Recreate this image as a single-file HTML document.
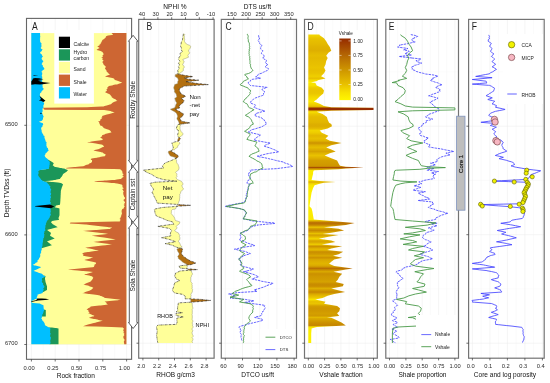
<!DOCTYPE html>
<html><head><meta charset="utf-8"><title>Well log panels</title>
<style>
html,body{margin:0;padding:0;background:#fff}
svg{display:block}
text{font-family:"Liberation Sans", Arial, sans-serif;fill:#222}
.tk{font-size:5.75px;text-anchor:middle;fill:#2a2a2a}
.ti{font-size:6.56px;text-anchor:middle;fill:#111}
.lt{font-size:10.2px;fill:#1c1c1c}
.lg{font-size:5.1px;fill:#222}
.fm{font-size:6.6px;text-anchor:middle;fill:#222}
.an{font-size:6.2px;fill:#111}
</style></head><body>
<svg width="550" height="383" viewBox="0 0 550 383">
<rect width="550" height="383" fill="#fff"/>
<rect x="26.5" y="18.4" width="105.1" height="340.9" fill="#fff"/>
<path d="M43.3 18.4V359.3M67.1 18.4V359.3M90.9 18.4V359.3M114.7 18.4V359.3M26.5 70.5H131.6M26.5 180.1H131.6M26.5 289.7H131.6" stroke="#f4f4f4" stroke-width="0.4" fill="none"/>
<path d="M31.4 18.4V359.3M55.2 18.4V359.3M79 18.4V359.3M102.8 18.4V359.3M126.6 18.4V359.3M26.5 125.3H131.6M26.5 234.9H131.6M26.5 344.5H131.6" stroke="#ebebeb" stroke-width="0.5" fill="none"/>
<rect x="31.3" y="33.1" width="95.1" height="311.2" fill="#ffff99"/>
<polygon points="40.1,33.1 40.1,33.6 40,34.1 40,34.6 40.4,35 40.4,35.1 39.9,35.5 39.9,35.6 40.3,36.1 40.3,36.6 40.2,37.1 40.2,37.6 39.9,38.1 39.9,38.6 40.3,38.8 40.3,39.1 39.9,39.6 39.9,40.1 40.2,40.6 40.2,41 40,41.1 40.2,41.6 40.4,42.1 40.6,42.6 41.1,43.1 41.1,43.2 41.6,43.6 41.7,44.1 41.2,44.6 41.3,45.1 41.5,45.4 41.4,45.6 41.5,46.1 41.3,46.6 41.6,46.7 41.4,47.1 40.9,47.6 40.7,48.1 41,48.6 41.6,49.1 42.6,49.6 42.7,49.7 41.7,50 41.6,50.1 42.1,50.6 41.8,51.1 41.1,51.4 41,51.6 40.5,52.1 40.2,52.6 40,53 40,53.1 40.6,53.6 41,54.1 41.8,54.6 42.2,55.1 42,55.6 42.1,55.8 42.7,56.1 42.9,56.3 42.8,56.6 42.5,57.1 42,57.6 41.8,58 41.9,58.1 41.7,58.5 41.4,58.6 41.7,59.1 42,59.6 42.3,60.1 42.5,60.2 42.7,60.6 43.4,61.1 43.6,61.3 43.1,61.6 42.8,62.1 42.6,62.3 42.4,62.6 42.3,63.1 42,63.6 41.7,64 41.7,64.1 41.8,64.5 41.8,64.6 42.5,65.1 42.8,65.6 42.9,66.1 43,66.2 42.8,66.6 42.9,66.7 43.4,67.1 43.7,67.6 43.9,68.1 44.2,68.6 44.7,68.9 44.5,69.1 43.8,69.6 43.3,70.1 42.7,70.2 42.3,70.6 42.4,71.1 42.1,71.3 41.4,71.6 41.6,72.1 41.9,72.4 42,72.6 42.4,73.1 42.5,73.5 42,73.6 41.9,74.1 42.2,74.6 42.2,75.1 41.7,75.6 41.7,76.1 42.2,76.6 42.2,77 42.2,77.1 42.3,77.6 42.1,78.1 42.1,78.4 42.4,78.6 42.4,79.1 41.9,79.6 41.9,80.1 42.3,80.6 42.3,81.1 42.2,81.6 42.3,82.8 42.2,83.1 42.2,83.6 42.6,84.1 42.6,84.4 42.7,84.6 42.7,85.1 42.3,85.5 42.3,85.6 42.6,86.1 42.8,86.6 42.4,87.1 42.6,87.6 43.3,88.1 43.4,88.3 43.5,88.6 43.5,88.8 43.7,89.1 43.4,89.6 42.9,90.1 42.7,90.5 42.1,90.6 41.8,91.1 41.6,91.6 41.3,92.1 41.4,92.3 41.2,92.6 40.3,93.1 40,93.6 40.1,94.1 40,94.3 39.8,94.6 39.9,95.1 40,95.6 40.1,96.1 40.2,96.5 40.2,96.6 41,97.1 41.1,97.6 40.7,98 40.7,98.1 41.1,98.6 41.2,98.7 41.5,99.1 41.8,99.6 42.6,100.1 42.8,100.6 42.3,100.9 42.4,101.1 43,101.6 43.3,102.1 43.7,102.5 43.7,102.6 44.2,103 44.2,103.1 44.1,103.6 44,104.1 44,104.6 43.4,105.1 43.4,106.1 43.3,106.4 43.3,106.5 43.2,106.6 43.6,107.1 43.6,107.6 43.6,107.8 42.8,108.1 42.7,108.6 42.6,109.1 42.5,109.6 42.5,110.1 42.7,110.6 42.6,111.1 42.6,111.6 42.5,112.1 42.2,112.3 42.1,112.6 41.9,113 41.9,113.1 42.4,113.6 42.5,114.1 42.5,114.2 42.6,114.6 42.9,115.1 43,115.6 43.5,116.1 43.6,116.6 43.5,117 43.4,117.1 43.2,117.6 43.1,118.1 43,118.6 42.9,119 43,119.1 42.9,119.6 42.2,120.1 42.1,120.5 42.6,120.6 41.1,121.1 39.6,121.6 38.8,121.9 39.4,122.1 40.8,122.6 42.1,123.1 43.3,123.5 42.9,123.6 43.1,124.1 43.2,124.6 43.2,124.7 42.7,125.1 42.5,125.6 42.7,126.1 42.5,126.6 41.7,127.1 41.5,127.6 41.2,128.1 41,128.5 41.2,128.6 41.3,129.1 41.3,129.6 41.5,130.1 41.7,130.5 41.7,130.6 41.6,131.1 41.7,131.6 41.8,132.1 41.9,132.4 42.1,132.6 42.3,133.1 42.5,133.6 42.8,134.1 43.1,134.3 43.3,134.6 43.2,135.1 43.5,135.6 44.5,136.1 44.5,136.2 44.4,136.6 44.6,137.1 44.4,137.6 44.5,138.1 44.8,138.6 44.9,139.1 45.2,139.6 45.3,140 45.4,140.1 45.5,140.6 45.5,141.1 45.7,141.6 46.4,141.9 46.4,142.1 46.6,142.3 46.7,142.6 46.3,143.1 46.4,143.6 46.5,144.1 46.6,144.6 46.2,144.8 46.3,145.1 46.4,145.6 46.5,146.1 46.8,146.6 46.8,147.1 46.9,147.6 47.8,148.1 48.1,148.6 47.9,149.1 48.2,149.6 48.4,150 48.3,150.1 48.8,150.5 48.8,150.6 48,151.1 47.7,151.6 47,152.1 46.9,152.2 47.1,152.4 46.9,152.6 46,153.1 45.5,153.6 45.5,154.1 45.3,154.3 45.4,154.6 45,155.1 44.5,155.5 44.6,155.6 44.9,156.1 44.9,156.6 45.4,157.1 45.5,157.2 45.9,157.6 45.8,157.7 46.2,158.1 47.2,158.6 47.3,158.7 47.4,159 47.5,159.1 48.3,159.6 48.6,159.9 48.5,160.1 49.6,160.6 50.5,161 50.6,161.1 51.4,161.6 52,162 52.1,162.1 52.9,162.6 53.5,163 53.7,163.1 53.8,163.2 53.6,163.6 53.4,164.1 53.1,164.6 52.9,165.1 52.7,165.4 53,165.6 53.7,166.1 53.9,166.3 54.3,166.6 54.9,167 55.5,167.1 58.4,167.6 60.1,167.9 61.3,168.1 63,168.4 64.2,168.6 64.6,168.8 65.3,169.1 65.5,169.2 66.4,169.6 67.6,170.1 68,170.3 67.7,170.6 67.2,171.1 66.7,171.6 66.4,171.9 66.3,172 66.1,172.1 65.4,172.6 64.6,173.1 63.9,173.6 63.1,174.1 62.9,174.6 62.6,175.1 62.6,175.2 62.4,175.6 62.1,176.1 62,176.3 61.8,176.6 61.4,177 61.3,177.1 60.9,177.6 60.5,178.1 60.2,178.5 60.1,178.6 59.8,179 59.3,179.1 56.7,179.6 55.1,179.9 54.1,180.1 52,180.5 50.9,180.6 49.9,180.7 45.6,181.1 44.5,181.2 45.4,181.3 48.2,181.6 49.2,181.7 52,182 53,182.1 57.9,182.6 60.9,182.9 61.2,183.1 61.3,183.2 61.9,183.6 62.5,184.1 63.1,184.5 63.1,184.6 62.8,185.1 62.6,185.6 62.4,186 62.4,186.1 62.4,186.2 62.2,186.6 62,187 62,187.1 61.8,187.6 61.7,188.1 61.5,188.6 61.4,189.1 61.2,189.6 61.1,190 61.1,190.1 60.9,190.6 60.9,191.1 60.8,191.6 60.8,192.1 60.8,192.6 60.8,193.1 60.7,193.6 60.7,194.1 60.7,194.6 60.7,195.1 60.6,195.6 60.6,196.1 60.6,196.6 60.6,197.1 60.5,198 60.5,198.6 60.4,199.1 60.4,199.6 60.4,200.1 60.4,200.6 60.3,201.1 60.3,201.6 60.3,202.1 60.2,202.6 60.2,203.1 60.1,203.6 60.1,204.1 60,204.6 60,204.8 58.5,205.1 56,205.6 55.9,205.8 55.7,206.1 55.5,206.6 55.2,207.1 55,207.5 55.5,207.6 58,208.1 59.5,208.4 59.5,215.4 59.4,215.6 59.2,216.1 59.1,216.6 58.9,217.1 58.8,217.3 58.7,217.6 58.5,218.1 58.5,218.2 58.6,218.6 58.8,219.1 58.9,219.6 59,220 58.3,220.1 54.8,220.6 52,221 51.9,221.1 51.7,221.5 51.6,221.6 51.3,222.1 51,222.5 51.1,222.6 51.6,223.1 52.1,223.6 52.6,224.1 52.8,224.3 53.1,224.5 53.3,224.6 54.1,225.1 55,225.6 55.8,226.1 56.6,226.6 57.4,227.1 57.6,227.2 56.1,227.6 54.2,228.1 52.3,228.6 50.8,229 50.4,229.1 48.5,229.6 47,230 47.1,230.1 47.8,230.6 48.3,231 48.5,231.1 49.1,231.6 49.8,232.1 50.5,232.6 51,233 51,233.1 50.8,233.6 50.7,233.9 50.6,234.1 50.4,234.6 50.3,235.1 50.1,235.6 50,235.8 50.5,236.1 51.3,236.6 52.2,237.1 53,237.6 53.9,238.1 54.7,238.6 53.4,239.1 52,239.6 50.7,240.1 49.4,240.6 48.1,241.1 47,241.5 47.1,241.6 47.6,242 47.8,242.1 48.4,242.6 49.1,243.1 49.7,243.6 50.4,244.1 50.7,244.4 51,244.6 51.6,245.1 51.9,245.3 50.9,245.6 49.2,246.1 47.5,246.6 45.8,247.1 44,247.6 43.4,247.8 42.3,248.1 42,248.2 41.5,248.6 41.5,249.1 41.8,249.6 41.8,250 41.7,250.1 41.7,250.5 41.1,250.6 41.1,252 41.3,252.1 41.1,252.6 40.7,253 40.6,253.6 40.5,254.1 40.1,254.6 40,255.1 40.4,255.6 40.3,255.8 40.3,256.1 40.1,256.6 40.1,257.1 39.9,257.6 39.2,257.7 38.9,258.1 39.2,258.6 38.8,259.1 38.5,259.6 38.3,260 37.7,260.1 37.4,260.6 37.8,261.1 37.5,261.6 37.3,262.1 37,262.5 36.2,262.6 35.4,263.1 35.3,263.6 34.6,264.1 33.3,264.6 32.7,265 33.2,265.1 34.3,265.4 35.5,265.6 37.4,266.1 39.1,266.6 41,267.1 41.1,267.3 40.5,267.6 39.7,268.1 38.6,268.6 37.7,269.1 36.6,269.6 36.1,269.8 35.4,270.1 34.3,270.6 33.4,271 33.8,271.1 35.3,271.6 36.8,272 37.1,272.1 37.9,272.6 39.3,273.1 41.2,273.6 42.3,274 42.3,274.1 42.8,274.5 42.5,274.6 43,275.1 43.8,275.6 45.5,276 45.5,276.1 45.4,276.6 45.4,276.8 45.3,277.1 45.2,277.6 45.1,278.1 45,278.6 45,279.1 45.1,279.6 45.2,280.1 45.3,280.6 45.4,281.1 45.4,281.6 45.5,281.7 45.5,282 45.5,282.1 45.7,282.6 45.9,283.1 46,283.6 46.2,284.1 46.3,284.5 46.4,284.6 46.5,285.1 46.7,285.6 46.9,286.1 47,286.5 47,290 46.8,290.1 46.5,290.3 45.9,290.6 45.1,291.1 44.2,291.6 43.3,292.1 42.6,292.6 42.6,293 42.8,293.1 41.1,293.6 40,294 39.3,294.1 38,294.6 37.1,295.1 37.7,295.6 37.6,296 37.3,296.1 37.1,296.6 37.1,297.1 37.1,297.3 36.6,297.6 36.7,297.9 37.6,298.1 37.8,298.6 35.7,299.1 34.3,299.6 34.5,299.8 33.6,300.1 33,300.2 32.6,300.6 32,301.1 31.5,301.6 31.7,301.7 31.8,302.1 32.3,302.6 32.4,303 33.1,303.1 39.8,303.6 40.6,304.1 41.6,304.6 42.9,305.1 43.7,305.5 43.5,305.6 43.5,306.1 43.5,306.5 43.5,306.6 43.6,307.1 43.6,308.1 43.7,308.6 43.9,309 43.9,309.1 44,309.4 44,309.6 45.8,310 45.8,316.5 42.3,316.6 42.2,317.1 41.9,317.5 41.9,317.6 41.4,318 41.4,318.1 41.5,318.6 41.4,319 41.9,319.1 42.2,319.6 41.9,320.1 42.3,320.6 43,320.8 43.3,321.1 43.3,321.6 43.7,322.1 44.1,322.6 44.2,322.7 44.6,323.1 44.8,323.6 44.4,323.7 44.6,324.1 44.9,324.6 45,325.1 45.4,325.6 46.2,326 46.6,326.1 46.8,326.2 47.1,326.6 48.1,327.1 49.3,327.5 52,327.6 55.2,328 56.1,328.1 58.5,328.4 58.5,344.3 49.8,344.3 49.5,344.1 49.5,343.6 49.8,343.1 49.8,342.6 49.6,342.1 49.6,340 50,339.6 50,339.1 50.1,338.6 50.1,337.1 49.4,336.6 49.4,336.1 49.5,335.6 49.5,335.1 49.6,335 49.6,334.6 50,334.1 50,333.6 49.4,333.1 49.4,332.6 49.5,332.1 49.5,331.6 49.4,331.1 49.4,330.6 49.7,330.1 49.6,329.6 49.5,329.1 49.6,328.6 49.5,328.4 49.5,328 48.8,327.6 49.3,327.5 48.1,327.1 47.1,326.6 46.8,326.2 46.6,326.1 46.2,326 45.4,325.6 45,325.1 44.9,324.6 44.6,324.1 44.4,323.7 44.8,323.6 44.6,323.1 44.2,322.7 44.1,322.6 43.7,322.1 43.3,321.6 43.3,321.1 43,320.8 42.3,320.6 41.9,320.1 42.2,319.6 41.9,319.1 41.4,319 41.5,318.6 41.4,318.1 41.4,318 41.9,317.6 41.9,317.5 42.2,317.1 42.3,316.6 41,316.5 41.1,316.1 41.4,316 41.5,315.6 41.5,315.1 41.6,314.6 42.1,314.1 42.3,313.6 42.3,313.1 42.6,313 42.7,312.6 42.6,312.1 42.8,311.6 43.3,311.1 43.4,310.6 43.1,310.1 43.2,310 44,309.6 44,309.4 43.9,309.1 43.9,309 43.7,308.6 43.6,308.1 43.6,307.1 43.5,306.6 43.5,306.5 43.5,306.1 43.5,305.6 43.7,305.5 42.9,305.1 41.6,304.6 40.6,304.1 39.8,303.6 33.1,303.1 32.4,303 32.3,302.6 31.8,302.1 31.7,301.7 31.5,301.6 32,301.1 32.6,300.6 33,300.2 33.6,300.1 34.5,299.8 34.3,299.6 35.7,299.1 37.8,298.6 37.6,298.1 36.7,297.9 36.6,297.6 37.1,297.3 37.1,297.1 37.1,296.6 37.3,296.1 37.6,296 37.7,295.6 37.1,295.1 38,294.6 39.3,294.1 38.7,294 41.1,293.6 42.8,293.1 42.6,293 42.6,292.6 42,292.1 42.1,291.6 42.7,291.1 42.6,290.3 42.7,290.1 43,290 43.1,289.6 42.5,289.1 42.6,288.6 42.9,288.1 43,287.6 43.6,287.4 43.6,287.1 43.8,286.6 43.9,286.5 43.3,286.1 43.1,285.6 42.6,285.1 42.4,284.6 42.4,284.5 42.3,284.1 42.5,283.6 42.3,283.1 41.4,282.6 41.2,282.1 41.4,282 41.3,281.7 41.1,281.6 41,281.1 41.6,280.6 41.5,280.1 41.2,279.6 41,279.1 41.1,278.8 41.5,278.6 41.6,278.1 42.6,277.6 43.9,277.1 44.5,276.8 44.4,276.6 43.9,276.1 43.5,276 43.8,275.6 43,275.1 42.5,274.6 42.8,274.5 42.3,274.1 42.3,274 41.2,273.6 39.3,273.1 37.9,272.6 37.1,272.1 36.8,272 35.3,271.6 33.8,271.1 33.4,271 34.3,270.6 35.4,270.1 36.1,269.8 36.6,269.6 37.7,269.1 38.6,268.6 39.7,268.1 40.5,267.6 41.1,267.3 41,267.1 39.1,266.6 37.4,266.1 35.5,265.6 34.3,265.4 33.2,265.1 32.7,265 33.3,264.6 34.6,264.1 35.3,263.6 35.4,263.1 36.2,262.6 37,262.5 37.3,262.1 37.5,261.6 37.8,261.1 37.4,260.6 37.7,260.1 38.3,260 38.5,259.6 38.8,259.1 39.2,258.6 38.9,258.1 39.2,257.7 39.9,257.6 40.1,257.1 40.1,256.6 40.3,256.1 40.3,255.8 40.4,255.6 40,255.1 40.1,254.6 40.5,254.1 40.6,253.6 40.7,253 41.1,252.6 41.3,252.1 41.1,252 41.1,250.6 41.7,250.5 41.7,250.1 41.8,250 41.8,249.6 41.5,249.1 41.5,248.6 40.5,248.2 40.5,248.1 41.2,247.8 41.3,247.6 41.4,247.1 41.5,246.6 41.5,246.1 41.7,245.6 42,245.3 42,245.1 41.7,244.6 41.7,244.4 41.8,244.1 41.9,243.6 41.9,243.1 42,242.6 42.3,242.1 42.3,242 42.2,241.6 42.2,241.5 42.3,241.1 42.3,240.6 42.5,240.1 42.6,239.6 42.5,239.1 42.5,238.6 43.1,238.1 43.3,237.6 43.3,237.1 43.5,236.6 43.5,236.1 43.6,235.8 43.5,235.1 43.7,234.6 43.7,234.1 43.3,233.9 43.3,233 43.7,232.6 43.9,232.1 43.6,231.6 43.8,231.1 44.4,231 44.6,230.6 44.5,229.1 44.3,229 44.3,228.6 44.6,228.1 44.6,227.6 44.7,227.2 44.7,226.6 44.8,226.1 44.7,225.6 44.9,225.1 45.6,224.6 45.6,224.5 45,224.3 45,224.1 45.3,223.6 45.5,223.1 45.9,222.6 45.9,222.5 45.6,222.1 45.8,221.6 46.3,221.5 46.4,221.1 46.4,221 46.7,220.6 47,220.1 47.1,220 47.7,219.6 48.1,219.1 48,218.6 48.2,218.2 48.7,218.1 49,217.6 48.9,217.3 49,217.1 49.1,216.6 49.4,216.1 49.6,215.6 49.7,215.4 50.2,215.1 50.2,214.6 49.6,214.1 49.6,213.6 49.9,213.4 49.9,213.1 49.8,212.6 49.8,212.1 50.1,211.6 50.2,211.1 49.9,210.6 49.9,210.1 50,209.6 50,209.1 49.9,208.6 49.9,208.4 49.8,208.1 49.8,207.6 50.4,207.5 50.3,206.1 49.9,205.8 49.9,205.6 50.3,205.1 50.3,204.8 49.9,204.6 49.9,204.1 50,203.6 49.9,203.1 50.2,203 50.2,202.6 49.4,202.1 49.4,201.6 49.5,201.1 49.5,200.6 49.8,200.1 49.8,199.6 49.7,199.1 49.7,198.6 49.9,198.2 49.9,198.1 50.2,198 50.3,197.6 50.2,197.1 50.2,196.6 49.6,196.1 49.6,195.6 50.3,195.1 50.3,194.6 50.4,194.1 50.5,193.6 49.8,193.1 49.9,192.6 49.9,191.6 50,191.1 50,190.6 50.4,190.1 50.4,190 50.5,189.6 50.3,189.1 49.7,188.6 49.6,188.1 49.5,187.6 49.3,187.1 49.8,187 49.7,186.6 49.5,186.2 49.4,186.1 48.9,186 48.6,185.6 48.6,185.1 48.2,184.6 47.5,184.5 47.2,184.1 47.1,183.6 46.7,183.2 46.9,183.1 46.7,182.9 46.1,182.6 45,182.1 44.9,182 44.2,181.7 43.7,181.6 43.1,181.3 42.3,181.2 42.1,181.1 41.9,180.7 41.8,180.6 41.5,180.5 41.1,180.1 40.7,179.9 40.4,179.6 40.2,179.1 40.1,179 39.8,178.6 39.7,178.5 39.2,178.1 39,177.6 38.4,177.1 38.3,177 38.1,176.6 38,176.3 37.9,176.1 37.6,175.6 37.4,175.2 37.4,175.1 37.5,174.6 37.5,174.1 38,173.6 37.9,173.1 37.9,172.6 37.9,172.1 37.8,172 37.8,171.9 37.5,171.6 37.8,171.1 38.5,170.6 38.7,170.3 39.9,170.1 43.3,169.6 45.7,169.2 46.4,169.1 48.5,168.8 48.5,168.6 48.3,168.4 48.3,167.6 48.6,167.1 48.6,167 48.7,166.6 48.7,166.3 48.5,166.1 48.5,165.6 48.9,165.4 48.9,165.1 49,164.6 49,163 49.1,162.6 49.1,162.1 49,162 48.8,161.6 48,161.1 47.9,161 47.8,160.6 47.6,160.1 48.6,159.9 48.3,159.6 47.5,159.1 47.4,159 47.3,158.7 47.2,158.6 46.2,158.1 45.8,157.7 45.9,157.6 45.5,157.2 45.4,157.1 44.9,156.6 44.9,156.1 44.6,155.6 44.5,155.5 45,155.1 45.4,154.6 45.3,154.3 45.5,154.1 45.5,153.6 46,153.1 46.9,152.6 47.1,152.4 46.9,152.2 47,152.1 47.7,151.6 48,151.1 48.8,150.6 48.8,150.5 48.3,150.1 48.4,150 48.2,149.6 47.9,149.1 48.1,148.6 47.8,148.1 46.9,147.6 46.8,147.1 46.8,146.6 46.5,146.1 46.4,145.6 46.3,145.1 46.2,144.8 46.6,144.6 46.5,144.1 46.4,143.6 46.3,143.1 46.7,142.6 46.6,142.3 46.4,142.1 46.4,141.9 45.7,141.6 45.5,141.1 45.5,140.6 45.4,140.1 45.3,140 45.2,139.6 44.9,139.1 44.8,138.6 44.5,138.1 44.4,137.6 44.6,137.1 44.4,136.6 44.5,136.2 44.5,136.1 43.5,135.6 43.2,135.1 43.3,134.6 43.1,134.3 42.8,134.1 42.5,133.6 42.3,133.1 42.1,132.6 41.9,132.4 41.8,132.1 41.7,131.6 41.6,131.1 41.7,130.6 41.7,130.5 41.5,130.1 41.3,129.6 41.3,129.1 41.2,128.6 41,128.5 41.2,128.1 41.5,127.6 41.7,127.1 42.5,126.6 42.7,126.1 42.5,125.6 42.7,125.1 43.2,124.7 43.2,124.6 43.1,124.1 42.9,123.6 43.3,123.5 42.1,123.1 40.8,122.6 39.4,122.1 38.8,121.9 39.6,121.6 41.1,121.1 42.6,120.6 42.1,120.5 42.2,120.1 42.9,119.6 43,119.1 42.9,119 43,118.6 43.1,118.1 43.2,117.6 43.4,117.1 43.5,117 43.6,116.6 43.5,116.1 43,115.6 42.9,115.1 42.6,114.6 42.5,114.2 42.5,114.1 42.4,113.6 41.9,113.1 41.9,113 42.1,112.6 42.2,112.3 42.5,112.1 42.6,111.6 42.6,111.1 42.7,110.6 42.5,110.1 42.5,109.6 42.6,109.1 42.7,108.6 42.8,108.1 43.6,107.8 43.6,107.6 43.6,107.1 43.2,106.6 43.3,106.5 43.3,106.4 43.4,106.1 43.4,105.1 44,104.6 44,104.1 44.1,103.6 44.2,103.1 44.2,103 43.7,102.6 43.7,102.5 43.3,102.1 43,101.6 42.4,101.1 42.3,100.9 42.8,100.6 42.6,100.1 41.8,99.6 41.5,99.1 41.2,98.7 41.1,98.6 40.7,98.1 40.7,98 41.1,97.6 41,97.1 40.2,96.6 40.2,96.5 40.1,96.1 40,95.6 39.9,95.1 39.8,94.6 40,94.3 40.1,94.1 40,93.6 40.3,93.1 41.2,92.6 41.4,92.3 41.3,92.1 41.6,91.6 41.8,91.1 42.1,90.6 42.7,90.5 42.9,90.1 43.4,89.6 43.7,89.1 43.5,88.8 43.5,88.6 43.4,88.3 43.3,88.1 42.6,87.6 42.4,87.1 42.8,86.6 42.6,86.1 42.3,85.6 42.3,85.5 42.7,85.1 42.7,84.6 42.6,84.4 42.6,84.1 42.2,83.6 42.2,83.1 42.3,82.8 42.2,81.6 42.3,81.1 42.3,80.6 41.9,80.1 41.9,79.6 42.4,79.1 42.4,78.6 42.1,78.4 42.1,78.1 42.3,77.6 42.2,77.1 42.2,77 42.2,76.6 41.7,76.1 41.7,75.6 42.2,75.1 42.2,74.6 41.9,74.1 42,73.6 42.5,73.5 42.4,73.1 42,72.6 41.9,72.4 41.6,72.1 41.4,71.6 42.1,71.3 42.4,71.1 42.3,70.6 42.7,70.2 43.3,70.1 43.8,69.6 44.5,69.1 44.7,68.9 44.2,68.6 43.9,68.1 43.7,67.6 43.4,67.1 42.9,66.7 42.8,66.6 43,66.2 42.9,66.1 42.8,65.6 42.5,65.1 41.8,64.6 41.8,64.5 41.7,64.1 41.7,64 42,63.6 42.3,63.1 42.4,62.6 42.6,62.3 42.8,62.1 43.1,61.6 43.6,61.3 43.4,61.1 42.7,60.6 42.5,60.2 42.3,60.1 42,59.6 41.7,59.1 41.4,58.6 41.7,58.5 41.9,58.1 41.8,58 42,57.6 42.5,57.1 42.8,56.6 42.9,56.3 42.7,56.1 42.1,55.8 42,55.6 42.2,55.1 41.8,54.6 41,54.1 40.6,53.6 40,53.1 40,53 40.2,52.6 40.5,52.1 41,51.6 41.1,51.4 41.8,51.1 42.1,50.6 41.6,50.1 41.7,50 42.7,49.7 42.6,49.6 41.6,49.1 41,48.6 40.7,48.1 40.9,47.6 41.4,47.1 41.6,46.7 41.3,46.6 41.5,46.1 41.4,45.6 41.5,45.4 41.3,45.1 41.2,44.6 41.7,44.1 41.6,43.6 41.1,43.2 41.1,43.1 40.6,42.6 40.4,42.1 40.2,41.6 40,41.1 40.2,41 40.2,40.6 39.9,40.1 39.9,39.6 40.3,39.1 40.3,38.8 39.9,38.6 39.9,38.1 40.2,37.6 40.2,37.1 40.3,36.6 40.3,36.1 39.9,35.6 39.9,35.5 40.4,35.1 40.4,35 40,34.6 40,34.1 40.1,33.6 40.1,33.1" fill="#1b9659"/>
<polygon points="31.3,33.1 40.1,33.1 40.1,33.6 40,34.1 40,34.6 40.4,35 40.4,35.1 39.9,35.5 39.9,35.6 40.3,36.1 40.3,36.6 40.2,37.1 40.2,37.6 39.9,38.1 39.9,38.6 40.3,38.8 40.3,39.1 39.9,39.6 39.9,40.1 40.2,40.6 40.2,41 40,41.1 40.2,41.6 40.4,42.1 40.6,42.6 41.1,43.1 41.1,43.2 41.6,43.6 41.7,44.1 41.2,44.6 41.3,45.1 41.5,45.4 41.4,45.6 41.5,46.1 41.3,46.6 41.6,46.7 41.4,47.1 40.9,47.6 40.7,48.1 41,48.6 41.6,49.1 42.6,49.6 42.7,49.7 41.7,50 41.6,50.1 42.1,50.6 41.8,51.1 41.1,51.4 41,51.6 40.5,52.1 40.2,52.6 40,53 40,53.1 40.6,53.6 41,54.1 41.8,54.6 42.2,55.1 42,55.6 42.1,55.8 42.7,56.1 42.9,56.3 42.8,56.6 42.5,57.1 42,57.6 41.8,58 41.9,58.1 41.7,58.5 41.4,58.6 41.7,59.1 42,59.6 42.3,60.1 42.5,60.2 42.7,60.6 43.4,61.1 43.6,61.3 43.1,61.6 42.8,62.1 42.6,62.3 42.4,62.6 42.3,63.1 42,63.6 41.7,64 41.7,64.1 41.8,64.5 41.8,64.6 42.5,65.1 42.8,65.6 42.9,66.1 43,66.2 42.8,66.6 42.9,66.7 43.4,67.1 43.7,67.6 43.9,68.1 44.2,68.6 44.7,68.9 44.5,69.1 43.8,69.6 43.3,70.1 42.7,70.2 42.3,70.6 42.4,71.1 42.1,71.3 41.4,71.6 41.6,72.1 41.9,72.4 42,72.6 42.4,73.1 42.5,73.5 42,73.6 41.9,74.1 42.2,74.6 42.2,75.1 41.7,75.6 41.7,76.1 42.2,76.6 42.2,77 42.2,77.1 42.3,77.6 42.1,78.1 42.1,78.4 42.4,78.6 42.4,79.1 41.9,79.6 41.9,80.1 42.3,80.6 42.3,81.1 42.2,81.6 42.3,82.8 42.2,83.1 42.2,83.6 42.6,84.1 42.6,84.4 42.7,84.6 42.7,85.1 42.3,85.5 42.3,85.6 42.6,86.1 42.8,86.6 42.4,87.1 42.6,87.6 43.3,88.1 43.4,88.3 43.5,88.6 43.5,88.8 43.7,89.1 43.4,89.6 42.9,90.1 42.7,90.5 42.1,90.6 41.8,91.1 41.6,91.6 41.3,92.1 41.4,92.3 41.2,92.6 40.3,93.1 40,93.6 40.1,94.1 40,94.3 39.8,94.6 39.9,95.1 40,95.6 40.1,96.1 40.2,96.5 40.2,96.6 41,97.1 41.1,97.6 40.7,98 40.7,98.1 41.1,98.6 41.2,98.7 41.5,99.1 41.8,99.6 42.6,100.1 42.8,100.6 42.3,100.9 42.4,101.1 43,101.6 43.3,102.1 43.7,102.5 43.7,102.6 44.2,103 44.2,103.1 44.1,103.6 44,104.1 44,104.6 43.4,105.1 43.4,106.1 43.3,106.4 43.3,106.5 43.2,106.6 43.6,107.1 43.6,107.6 43.6,107.8 42.8,108.1 42.7,108.6 42.6,109.1 42.5,109.6 42.5,110.1 42.7,110.6 42.6,111.1 42.6,111.6 42.5,112.1 42.2,112.3 42.1,112.6 41.9,113 41.9,113.1 42.4,113.6 42.5,114.1 42.5,114.2 42.6,114.6 42.9,115.1 43,115.6 43.5,116.1 43.6,116.6 43.5,117 43.4,117.1 43.2,117.6 43.1,118.1 43,118.6 42.9,119 43,119.1 42.9,119.6 42.2,120.1 42.1,120.5 42.6,120.6 41.1,121.1 39.6,121.6 38.8,121.9 39.4,122.1 40.8,122.6 42.1,123.1 43.3,123.5 42.9,123.6 43.1,124.1 43.2,124.6 43.2,124.7 42.7,125.1 42.5,125.6 42.7,126.1 42.5,126.6 41.7,127.1 41.5,127.6 41.2,128.1 41,128.5 41.2,128.6 41.3,129.1 41.3,129.6 41.5,130.1 41.7,130.5 41.7,130.6 41.6,131.1 41.7,131.6 41.8,132.1 41.9,132.4 42.1,132.6 42.3,133.1 42.5,133.6 42.8,134.1 43.1,134.3 43.3,134.6 43.2,135.1 43.5,135.6 44.5,136.1 44.5,136.2 44.4,136.6 44.6,137.1 44.4,137.6 44.5,138.1 44.8,138.6 44.9,139.1 45.2,139.6 45.3,140 45.4,140.1 45.5,140.6 45.5,141.1 45.7,141.6 46.4,141.9 46.4,142.1 46.6,142.3 46.7,142.6 46.3,143.1 46.4,143.6 46.5,144.1 46.6,144.6 46.2,144.8 46.3,145.1 46.4,145.6 46.5,146.1 46.8,146.6 46.8,147.1 46.9,147.6 47.8,148.1 48.1,148.6 47.9,149.1 48.2,149.6 48.4,150 48.3,150.1 48.8,150.5 48.8,150.6 48,151.1 47.7,151.6 47,152.1 46.9,152.2 47.1,152.4 46.9,152.6 46,153.1 45.5,153.6 45.5,154.1 45.3,154.3 45.4,154.6 45,155.1 44.5,155.5 44.6,155.6 44.9,156.1 44.9,156.6 45.4,157.1 45.5,157.2 45.9,157.6 45.8,157.7 46.2,158.1 47.2,158.6 47.3,158.7 47.4,159 47.5,159.1 48.3,159.6 48.6,159.9 48.3,160.1 48.5,160.6 48.6,161 48.7,161.1 49.5,161.6 49.7,162 49.8,162.1 49.8,162.6 49.7,163 49.7,164.6 49.6,165.1 49.6,165.4 49.2,165.6 49.2,166.1 49.4,166.3 49.4,166.6 49.3,167 49.3,167.1 49,167.6 49,168.4 49.2,168.6 49.2,168.8 47.1,169.1 46.4,169.2 44,169.6 40.6,170.1 39.4,170.3 39.2,170.6 38.5,171.1 38.2,171.6 38.5,171.9 38.5,172 38.6,172.1 38.6,172.6 38.6,173.1 38.7,173.6 38.2,174.1 38.2,174.6 38.1,175.1 38.1,175.2 38.3,175.6 38.6,176.1 38.7,176.3 38.8,176.6 39,177 39.1,177.1 39.7,177.6 39.9,178.1 40.4,178.5 40.5,178.6 40.8,179 40.9,179.1 41.1,179.6 41.4,179.9 41.8,180.1 42.2,180.5 42.5,180.6 42.6,180.7 42.8,181.1 43,181.2 43.8,181.3 44.4,181.6 44.9,181.7 45.6,182 45.7,182.1 46.8,182.6 47.4,182.9 47.6,183.1 47.4,183.2 47.8,183.6 47.9,184.1 48.2,184.5 48.9,184.6 49.3,185.1 49.3,185.6 49.6,186 50.1,186.1 50.2,186.2 50.4,186.6 50.5,187 50,187.1 50.2,187.6 50.3,188.1 50.4,188.6 51,189.1 51.2,189.6 51.1,190 51.1,190.1 50.7,190.6 50.7,191.1 50.6,191.6 50.6,192.6 50.5,193.1 51.2,193.6 51.1,194.1 51,194.6 51,195.1 50.3,195.6 50.3,196.1 50.9,196.6 50.9,197.1 51,197.6 50.9,198 50.6,198.1 50.6,198.2 50.4,198.6 50.4,199.1 50.5,199.6 50.5,200.1 50.2,200.6 50.2,201.1 50.1,201.6 50.1,202.1 50.9,202.6 50.9,203 50.6,203.1 50.7,203.6 50.6,204.1 50.6,204.6 51,204.8 51,205.1 50.6,205.6 50.6,205.8 51,206.1 51.1,207.5 50.5,207.6 50.5,208.1 50.6,208.4 50.6,208.6 50.7,209.1 50.7,209.6 50.6,210.1 50.6,210.6 50.9,211.1 50.8,211.6 50.5,212.1 50.5,212.6 50.6,213.1 50.6,213.4 50.3,213.6 50.3,214.1 50.9,214.6 50.9,215.1 50.4,215.4 50.3,215.6 50.1,216.1 49.8,216.6 49.7,217.1 49.6,217.3 49.7,217.6 49.4,218.1 48.9,218.2 48.7,218.6 48.8,219.1 48.4,219.6 47.8,220 47.7,220.1 47.4,220.6 47.1,221 47.1,221.1 47,221.5 46.5,221.6 46.3,222.1 46.6,222.5 46.6,222.6 46.2,223.1 46,223.6 45.7,224.1 45.7,224.3 46.3,224.5 46.3,224.6 45.6,225.1 45.4,225.6 45.5,226.1 45.4,226.6 45.4,227.2 45.3,227.6 45.3,228.1 45,228.6 45,229 45.2,229.1 45.3,230.6 45.1,231 44.5,231.1 44.3,231.6 44.6,232.1 44.4,232.6 44,233 44,233.9 44.4,234.1 44.4,234.6 44.2,235.1 44.3,235.8 44.2,236.1 44.2,236.6 44,237.1 44,237.6 43.8,238.1 43.2,238.6 43.2,239.1 43.3,239.6 43.2,240.1 43,240.6 43,241.1 42.9,241.5 42.9,241.6 43,242 43,242.1 42.7,242.6 42.6,243.1 42.6,243.6 42.5,244.1 42.4,244.4 42.4,244.6 42.7,245.1 42.7,245.3 42.4,245.6 42.2,246.1 42.2,246.6 42.1,247.1 42,247.6 41.9,247.8 41.2,248.1 41.2,248.2 41.5,248.6 41.5,249.1 41.8,249.6 41.8,250 41.7,250.1 41.7,250.5 41.1,250.6 41.1,252 41.3,252.1 41.1,252.6 40.7,253 40.6,253.6 40.5,254.1 40.1,254.6 40,255.1 40.4,255.6 40.3,255.8 40.3,256.1 40.1,256.6 40.1,257.1 39.9,257.6 39.2,257.7 38.9,258.1 39.2,258.6 38.8,259.1 38.5,259.6 38.3,260 37.7,260.1 37.4,260.6 37.8,261.1 37.5,261.6 37.3,262.1 37,262.5 36.2,262.6 35.4,263.1 35.3,263.6 34.6,264.1 33.3,264.6 32.7,265 33.2,265.1 34.3,265.4 35.5,265.6 37.4,266.1 39.1,266.6 41,267.1 41.1,267.3 40.5,267.6 39.7,268.1 38.6,268.6 37.7,269.1 36.6,269.6 36.1,269.8 35.4,270.1 34.3,270.6 33.4,271 33.8,271.1 35.3,271.6 36.8,272 37.1,272.1 37.9,272.6 39.3,273.1 41.2,273.6 42.3,274 42.3,274.1 42.8,274.5 42.5,274.6 43,275.1 43.8,275.6 44.2,276 44.6,276.1 45.1,276.6 45.2,276.8 44.6,277.1 43.3,277.6 42.3,278.1 42.2,278.6 41.8,278.8 41.7,279.1 41.9,279.6 42.2,280.1 42.3,280.6 41.7,281.1 41.8,281.6 42,281.7 42.1,282 41.9,282.1 42.1,282.6 43,283.1 43.2,283.6 43,284.1 43.1,284.5 43.1,284.6 43.3,285.1 43.8,285.6 44,286.1 44.6,286.5 44.5,286.6 44.3,287.1 44.3,287.4 43.7,287.6 43.6,288.1 43.3,288.6 43.2,289.1 43.8,289.6 43.7,290 43.4,290.1 43.3,290.3 43.4,291.1 42.8,291.6 42.7,292.1 42.6,292.6 42.6,293 42.8,293.1 41.1,293.6 39.4,294 39.3,294.1 38,294.6 37.1,295.1 37.7,295.6 37.6,296 37.3,296.1 37.1,296.6 37.1,297.1 37.1,297.3 36.6,297.6 36.7,297.9 37.6,298.1 37.8,298.6 35.7,299.1 34.3,299.6 34.5,299.8 33.6,300.1 33,300.2 32.6,300.6 32,301.1 31.5,301.6 31.7,301.7 31.8,302.1 32.3,302.6 32.4,303 33.1,303.1 39.8,303.6 40.6,304.1 41.6,304.6 42.9,305.1 43.7,305.5 43.5,305.6 43.5,306.1 43.5,306.5 43.5,306.6 43.6,307.1 43.6,308.1 43.7,308.6 43.9,309 43.9,309.1 44,309.4 44,309.6 43.9,310 43.8,310.1 44.1,310.6 44,311.1 43.5,311.6 43.3,312.1 43.4,312.6 43.3,313 43,313.1 43,313.6 42.8,314.1 42.3,314.6 42.2,315.1 42.2,315.6 42.1,316 41.8,316.1 41.7,316.5 42.3,316.6 42.2,317.1 41.9,317.5 41.9,317.6 41.4,318 41.4,318.1 41.5,318.6 41.4,319 41.9,319.1 42.2,319.6 41.9,320.1 42.3,320.6 43,320.8 43.3,321.1 43.3,321.6 43.7,322.1 44.1,322.6 44.2,322.7 44.6,323.1 44.8,323.6 44.4,323.7 44.6,324.1 44.9,324.6 45,325.1 45.4,325.6 46.2,326 46.6,326.1 46.8,326.2 47.1,326.6 48.1,327.1 49.3,327.5 49.5,327.6 50.2,328 50.2,328.4 50.3,328.6 50.2,329.1 50.3,329.6 50.4,330.1 50.1,330.6 50.1,331.1 50.2,331.6 50.2,332.1 50.1,332.6 50.1,333.1 50.7,333.6 50.7,334.1 50.3,334.6 50.3,335 50.2,335.1 50.2,335.6 50.1,336.1 50.1,336.6 50.8,337.1 50.8,338.6 50.7,339.1 50.7,339.6 50.3,340 50.3,342.1 50.5,342.6 50.5,343.1 50.2,343.6 50.2,344.1 50.5,344.3 31.3,344.3" fill="#00bfff"/>
<polygon points="111.8,33.1 111.8,33.6 112.7,34.1 112.8,35 112,35.1 108.2,35.5 108,35.6 106.7,36.1 105.8,36.6 106,37.1 105.8,37.6 104.7,38.1 104.6,38.6 104.6,38.8 104.2,39.1 103.1,39.6 102.4,40.1 102.3,40.6 101.8,41 101.9,41.1 101.7,41.6 101.5,42.1 101.3,42.6 100.6,43.1 100.6,43.2 100.8,43.6 100.6,44.1 99.6,44.6 99.4,45.1 99.6,45.4 99.2,45.6 98.1,46.1 97.3,46.6 97.6,46.7 98.3,47.1 98.8,47.6 99.8,48.1 98.7,48.6 97.7,49.1 97.1,49.6 96.9,49.7 96.2,50 96.6,50.1 98.8,50.6 100.6,51.1 101.5,51.4 101.7,51.6 102.4,52.1 102.8,52.6 103,53 103,53.1 103.5,53.6 103.4,54.1 103.5,54.6 103.3,55.1 102.5,55.6 102.4,55.8 102.3,56.1 102.2,56.3 103.1,56.6 102.9,57.1 101.6,57.6 101.5,58 102.4,58.1 102.6,58.5 102.5,58.6 102.8,59.1 102.2,59.6 102.5,60.1 103.7,60.2 103.4,60.6 103.2,61.1 103.1,61.3 102.6,61.6 102.3,62.1 102.3,62.3 102.6,62.6 103.1,63.1 103.4,63.6 102.8,64 102.9,64.1 103.7,64.5 103.8,64.6 104.1,65.1 104.5,65.6 105.3,66.1 105.4,66.2 105.7,66.6 105.7,66.7 105.7,67.1 105.6,67.6 105.1,68.1 105,68.6 105.3,68.9 105.5,69.1 105.6,69.6 106.1,70.1 106.2,70.2 106.6,70.6 106.4,71.1 106.6,71.3 106.6,71.6 107.1,72.1 107.6,72.4 107.7,72.6 108.4,73.1 108.7,73.5 108.4,73.6 108.8,74.1 110.2,74.6 108.9,75.1 107.3,75.6 106.1,76.1 105,76.6 106.9,77 107.4,77.1 109.9,77.6 112.4,78.1 113.9,78.4 113.8,78.6 114.4,79.1 114.4,79.6 115,80.1 116.7,80.6 118.1,81.1 119.4,81.6 120.7,82.1 121.8,82.6 122.3,82.8 121.3,83.1 119.6,83.6 118.1,84.1 117.1,84.4 115.4,84.6 113.1,85.1 112.2,85.5 111.8,85.6 108.9,86.1 108.5,86.6 107.8,87.1 107.4,87.6 107.3,88.1 107.2,88.3 107.7,88.6 107.6,88.8 106.7,89.1 106.4,89.6 106.9,90.1 106.7,90.5 107,90.6 106.7,91.1 105.7,91.6 105.4,92.1 105.1,92.3 105.7,92.6 106.8,93.1 107.8,93.6 109.1,94.1 109.5,94.3 109.9,94.6 110.4,95.1 110.7,95.6 111.2,96.1 111.6,96.5 111.7,96.6 111.5,97.1 112.2,97.6 112.7,98 112.9,98.1 113.6,98.6 113.8,98.7 115,99.1 115.8,99.6 115.9,100.1 116.7,100.6 117.5,100.9 117,101.1 115.1,101.6 113.9,102.1 113,102.5 112.8,102.6 112.4,103 112.2,103.1 111.9,103.6 111,104.1 110.3,104.5 109.9,104.6 108.3,105.1 106.7,105.6 104.5,106.1 103.5,106.4 103.5,106.5 101.5,106.6 91.1,107.1 87,107.3 61,107.6 43.7,107.8 43.2,108.1 43.2,108.6 44.3,109.1 44.3,109.6 43.3,109.7 43.3,109.8 87.7,109.9 104.2,110.1 107.4,110.6 110.6,111.1 111.4,111.6 113.4,112.1 114.8,112.3 113.8,112.6 112.9,113 112.5,113.1 111,113.6 109.2,114.1 108.1,114.2 106.9,114.6 105.2,115.1 103.7,115.6 102.1,116.1 101.9,116.6 102.8,117 102.8,117.1 101.6,117.6 101.4,118.1 101.8,118.6 101.6,119 100.9,119.1 100.4,119.6 100.4,120.1 100,120.5 100.5,120.6 100,121.1 98.4,121.6 98.1,121.9 99.1,122.1 99.3,122.6 99,123.1 99.2,123.5 99.7,123.6 99.9,124.1 99.9,124.7 99.7,125.1 100.4,125.6 102,126.1 102.6,126.6 102.7,127.1 103.4,127.6 103.9,128.1 104.8,128.5 105,128.6 106.2,129.1 108,129.6 109.2,130.1 110,130.5 110.1,130.6 110.4,131.1 110.9,131.6 111.2,132.1 111.5,132.4 111,132.6 109,133.1 106.9,133.6 104.9,134.1 104.9,134.3 104.5,134.6 102.6,135.1 101.9,135.6 102.2,136.1 102.1,136.2 101.7,136.6 101,137.1 100.3,137.6 100.7,138.1 102.1,138.6 102.5,139.1 102.5,139.6 102.8,140 102.4,140.1 99.1,140.6 94.9,141.1 91.6,141.6 89.7,141.9 88.4,142.1 87.1,142.3 88.9,142.6 92.8,143.1 95.9,143.6 98.3,144.1 101.4,144.6 102.3,144.8 102.6,145.1 103.2,145.6 103.7,146.1 104,146.6 104.1,146.7 102.9,147.1 101.9,147.6 101,148.1 99.9,148.6 99,149.1 97,149.6 94.6,150 94.2,150.1 93.5,150.5 94,150.6 95.6,151.1 98.1,151.6 100.7,152.1 101.2,152.2 102.5,152.4 102.8,152.6 103.1,153.1 103.8,153.6 104.8,154.1 105.1,154.3 105.8,154.6 105.6,155.1 105.3,155.5 105.2,155.6 104.9,156.1 104.8,156.2 102.4,156.6 99.8,157.1 99.6,157.2 97.5,157.6 97,157.7 94.8,158.1 91.6,158.6 91.1,158.7 91.4,159 91.5,159.1 90.8,159.6 90.9,159.9 91.9,160.1 92.2,160.6 91.9,161 91.9,161.1 92.1,161.6 91.9,162 91.7,162.1 91.5,162.6 90.8,163 90.6,163.1 90,163.2 89.1,163.6 89.2,164.1 88,164.6 85.7,165.1 85.1,165.4 85.1,165.6 83.9,166.1 83.3,166.3 79.9,166.6 75.4,167 74.3,167.1 69.3,167.6 65.9,167.9 66.3,168.1 66.3,168.4 79,168.6 92.7,168.8 113.8,169.1 120.6,169.2 120.5,169.6 120.9,170.1 121.5,170.3 121.7,170.6 121.9,171.1 122.4,171.6 122.3,171.9 122.4,172 122.4,172.6 122.5,173.1 122.5,173.6 123.5,174.1 123.5,174.6 122.9,175.1 122.9,175.2 122.5,175.6 122.5,176.1 123.5,176.3 123.5,176.6 123.6,177 123.5,177.1 122.4,177.6 122.1,178.1 121.3,178.5 121.3,178.6 121.1,179 120.4,179.1 116.8,179.6 114.7,179.9 112.2,180.1 106.3,180.5 104.5,180.6 103.1,180.7 97.4,181.1 96,181.2 94.6,181.3 94.6,181.6 95,181.7 99.1,182 100.9,182.1 107.7,182.6 111.6,182.9 114.3,183.1 115.2,183.2 117.1,183.6 119.5,184.1 121.4,184.5 121.6,184.6 122.1,185.1 122.4,185.6 122.7,186 122.7,186.1 122.7,186.2 122.3,186.6 122.3,187 122.6,187.1 122.6,187.6 123.6,188.1 123.6,188.6 122.4,189.1 122.4,189.6 122.9,190 122.9,190.1 123.2,190.6 123.3,191.1 123.7,191.6 123.8,192.1 123,192.6 123.1,193.1 123.3,193.6 123.3,194.1 123.4,194.6 123.5,195.1 123.8,195.6 123.9,196.1 124.1,196.6 124.2,197.1 125,197.6 125,198 124.9,198.1 124.9,199.1 123.7,199.6 123.7,201.1 124.7,201.6 124.7,202.1 125,202.6 125,203 124.4,203.1 124.4,203.6 124.5,204.1 124.5,204.6 123.7,204.8 123.7,205.1 124.2,205.6 124.2,205.8 124.8,206.1 124.6,206.6 124.2,207.1 124,207.5 124,207.6 123.7,208.1 123.8,208.4 123.7,208.6 122.4,209.1 122.1,209.6 121.8,210.1 121.7,210.6 121.6,211.1 121.5,211.6 121.9,212.1 121.7,212.6 121.8,213.1 121.8,213.4 122.1,213.6 122,214.1 121.5,214.6 121.4,215.1 121.2,215.4 121.2,216.1 121.1,216.6 120.6,217.1 120.5,217.3 120.6,217.6 120.5,218.1 119.7,218.2 119.6,218.6 120.6,219.1 120.4,219.6 119.6,220 119.6,220.1 120.4,220.6 120.3,221 119.9,221.1 119.8,221.5 114.9,221.6 92.8,222.1 74.9,222.5 70.5,222.6 70.2,223.1 69.7,223.6 78.5,224.1 81.9,224.3 85.3,224.5 86.1,224.6 89.7,225.1 94,225.6 98.3,226.1 102.7,226.6 107.7,227.1 108.6,227.2 112.1,227.6 111.4,228.1 110.4,228.6 109.8,229 108.3,229.1 101.6,229.6 96.8,230 95.5,230.1 88,230.6 82.7,231 84,231.1 88.3,231.6 92.8,232.1 97,232.6 101.1,233 102,233.1 105.8,233.6 108.4,233.9 107,234.1 102.8,234.6 97.9,235.1 93.7,235.6 91.6,235.8 93.5,236.1 96.7,236.6 99.9,237.1 104,237.6 107.2,238.1 110,238.6 113.1,239.1 115.7,239.6 110.9,240.1 105.7,240.6 101,241.1 97.8,241.5 96.8,241.6 93.2,242 94,242.1 97.6,242.6 101.6,243.1 105.3,243.6 109.3,244.1 112.2,244.4 110.7,244.6 107.1,245.1 105.5,245.3 102.2,245.6 98.3,246.1 94.1,246.6 90.1,247.1 86.6,247.6 85.1,247.8 86.7,248.1 87.2,248.2 89.5,248.6 92,249.1 93.7,249.6 95.7,250 97,250.1 99,250.5 98.3,250.6 95,251.1 91.5,251.6 88.9,252 87.8,252.1 84.6,252.6 83.1,253 83.1,253.1 82.4,253.6 82.5,254.1 83.4,254.6 83.6,255.1 83,255.6 83,255.8 84.5,256.1 87.1,256.6 90.3,257.1 92.9,257.6 92.7,257.7 91.2,258.1 90.2,258.6 88.3,259.1 85.8,259.6 84.3,260 84.3,260.1 86.6,260.6 89,261.1 91.3,261.6 93.8,262.1 95.7,262.5 96,262.6 95.8,263.1 96,263.6 95.9,264.1 94.6,264.6 94.4,265 94.8,265.1 94.7,265.4 94.2,265.6 93.7,266.1 94.3,266.6 93.9,267.1 92.5,267.3 89.5,267.6 84.4,268.1 79.4,268.6 74.5,269.1 69.5,269.6 68,269.8 71.3,270.1 77.7,270.6 82.2,271 83.3,271.1 88.9,271.6 93.2,272 92.9,272.1 91.5,272.6 89.8,273.1 88,273.6 86.6,274 85.4,274.1 84.1,274.5 84.2,274.6 86.1,275.1 89.1,275.6 90.6,276 90.7,276.1 92.6,276.6 92.3,276.8 92.3,277.1 93.2,277.6 93.2,278.1 92.8,278.6 92.8,278.8 92.6,279.1 92.3,279.6 91.9,280.1 91.5,280.6 91,281.1 90.6,281.6 90.3,281.7 89.5,282 89.6,282.1 88.2,282.6 87,283.1 85.6,283.6 85.1,284.1 84,284.5 83.2,284.6 84.9,285.1 87.7,285.6 89.3,286.1 89.6,286.5 89.9,286.6 91.8,287.1 92.8,287.4 93.3,287.6 93,288.1 92.6,288.6 92.3,289.1 91.4,289.6 91.1,290 90.5,290.1 90.4,290.3 90,290.6 88.5,291.1 86.8,291.6 85.3,292.1 84.5,292.6 83.3,293 82,293.1 85.6,293.6 88.7,294 89.4,294.1 93.8,294.6 97.4,295.1 99.8,295.6 100.5,296 101.2,296.1 102.1,296.6 103.5,297.1 103.8,297.3 104.3,297.6 104.8,297.9 105.6,298.1 110.1,298.6 114.5,299.1 119,299.6 120.9,299.8 118.2,300.1 118.5,300.2 114.9,300.6 109.5,301.1 105,301.6 104.7,301.7 105.3,302.1 106.1,302.6 106.7,303 106,303.1 106.7,303.6 107.2,304.1 107.9,304.6 104.3,305.1 100.7,305.5 99.3,305.6 94.8,306.1 90.7,306.5 90.5,306.6 90.5,307.1 89.9,307.6 88.6,308.1 88,308.6 87.4,309 87.3,309.1 86.5,309.4 86.6,309.6 87.8,310 87.9,310.1 88.4,310.6 88.6,311.1 88.4,311.6 88.7,312.1 89.3,312.6 89.5,313 88.3,313.1 88.3,313.2 89.3,313.6 90.2,314.1 91.4,314.6 92.3,315.1 93.8,315.6 94.5,316 94.3,316.1 93.3,316.5 92.3,316.6 91,317.1 89.9,317.5 89.6,317.6 88.9,318 89.4,318.1 91.9,318.6 93.8,319 94.9,319.1 97.3,319.6 98.7,320.1 101.1,320.6 102.9,320.8 101.7,321.1 99.7,321.6 97.7,322.1 95.8,322.6 95.4,322.7 93.8,323.1 91.8,323.6 91.2,323.7 89.9,324.1 88,324.6 86.5,325.1 85,325.6 83.8,326 83.5,326.1 83.2,326.2 96.1,326.6 111.6,327.1 122.9,327.5 122.9,327.6 123.2,328 123.2,328.1 124,328.4 124.1,328.6 123.5,329.1 123.6,329.6 123.4,330 123.4,330.1 123.3,330.6 123.2,331.1 123.9,331.6 123.9,332.1 123.5,332.6 123.4,333.1 124.3,333.6 124.3,334.1 124.1,334.6 124,335 124.2,335.1 124.3,335.6 123.4,336.1 123.5,336.6 123.3,337.1 123.4,337.6 123.5,338.1 123.6,338.6 124.2,339.1 124.3,339.6 124.7,340 124.7,340.1 124.3,340.6 124.2,341.1 123.9,341.6 123.8,342.1 124,342.6 124,343.1 124.2,343.6 124.2,344.1 124.2,344.3 126.4,344.3 126.4,33.1" fill="#cd6633"/>
<polygon points="31.3,81.5 32.4,79.9 33,78.4 35,78.1 39,78.3 43.6,79.2 39.5,79.8 37.5,80.1 42,80.9 39,81.5 44,82.2 50.5,83.1 44.5,84 40,84.6 35,84.3 31.3,84.7" fill="#000"/>
<polygon points="33.5,75.2 38.4,75.5 33.5,75.9" fill="#000"/>
<polygon points="39.5,96 41.5,97.5 45.5,100.7 43.3,102 41,100.8 39,100.7 41,99" fill="#000"/>
<polygon points="40.3,112.8 42.3,113.3 40.3,113.9" fill="#000"/>
<polygon points="35.1,205.9 50,204.6 54.3,206.6 51,208.2 35.1,206.5" fill="#000"/>
<polygon points="31.3,301.2 36,300.2 37.5,298.6 42,298.4 46,298.8 49.2,299.4 45,300.1 38,300.6 31.3,302" fill="#000"/>
<rect x="54.3" y="30" width="39.6" height="73.6" fill="#fff"/>
<rect x="58.9" y="36.7" width="11.1" height="11.3" fill="#000"/>
<rect x="58.9" y="49.3" width="11.1" height="11.3" fill="#1b9659"/>
<rect x="58.9" y="61.9" width="11.1" height="11.3" fill="#ffff99"/>
<rect x="58.9" y="74.6" width="11.1" height="11.3" fill="#cd6633"/>
<rect x="58.9" y="87.2" width="11.1" height="11.3" fill="#00bfff"/>
<text x="73.6" y="45.8" class="lg">Calcite</text>
<text x="73.6" y="53.6" class="lg">Hydro</text>
<text x="73.6" y="71" class="lg">Sand</text>
<text x="73.6" y="83.7" class="lg">Shale</text>
<text x="73.6" y="96.2" class="lg">Water</text>
<text x="73.6" y="59.8" class="lg">carbon</text>
<rect x="26.5" y="18.4" width="105.1" height="340.9" fill="none" stroke="#666" stroke-width="1.1"/>
<path d="M31.4 359.3v2.2M55.2 359.3v2.2M79 359.3v2.2M102.8 359.3v2.2M126.6 359.3v2.2M26.5 125.3h-2.2M26.5 234.9h-2.2M26.5 344.5h-2.2" stroke="#333" stroke-width="0.7" fill="none"/>
<text x="29.1" y="369.5" class="tk">0.00</text>
<text x="52.9" y="369.5" class="tk">0.25</text>
<text x="76.7" y="369.5" class="tk">0.50</text>
<text x="100.5" y="369.5" class="tk">0.75</text>
<text x="124.3" y="369.5" class="tk">1.00</text>
<text x="75.8" y="378.3" class="ti">Rock fraction</text>
<text transform="translate(32 30.2) scale(0.84 1)" class="lt">A</text>
<text x="17.7" y="126.1" class="tk" style="text-anchor:end">6500</text>
<text x="17.7" y="235.7" class="tk" style="text-anchor:end">6600</text>
<text x="17.7" y="345.3" class="tk" style="text-anchor:end">6700</text>
<text transform="translate(9.0 193) rotate(-90)" class="ti">Depth TVDss (ft)</text>
<polygon points="133.1,35.3 137.9,41.3 136.9,41.3 136.9,160.4 137.9,160.4 133.1,166.4 128.5,160.4 129.3,160.4 129.3,41.3 128.5,41.3" fill="#fff" stroke="#333" stroke-width="0.8" stroke-linejoin="miter"/>
<polygon points="133.1,166.4 137.9,172.4 136.9,172.4 136.9,216.3 137.9,216.3 133.1,222.3 128.5,216.3 129.3,216.3 129.3,172.4 128.5,172.4" fill="#fff" stroke="#333" stroke-width="0.8" stroke-linejoin="miter"/>
<polygon points="133.1,222.3 137.9,228.3 136.9,228.3 136.9,322.5 137.9,322.5 133.1,328.5 128.5,322.5 129.3,322.5 129.3,228.3 128.5,228.3" fill="#fff" stroke="#333" stroke-width="0.8" stroke-linejoin="miter"/>
<text transform="translate(134.9 99.8) rotate(-90)" class="fm">Rodby Shale</text>
<text transform="translate(134.9 194.5) rotate(-90)" class="fm" style="font-size:6.3px">Captain sst</text>
<text transform="translate(134.9 275.5) rotate(-90)" class="fm">Sola Shale</text>
<rect x="138.7" y="19.4" width="75.4" height="338.8" fill="#fff"/>
<path d="M150.8 19.4V358.2M166.6 19.4V358.2M182.4 19.4V358.2M198.2 19.4V358.2M214 19.4V358.2M138.7 71.9H214.1M138.7 180.4H214.1M138.7 288.9H214.1" stroke="#f4f4f4" stroke-width="0.4" fill="none"/>
<path d="M142.9 19.4V358.2M158.7 19.4V358.2M174.5 19.4V358.2M190.3 19.4V358.2M206.1 19.4V358.2M138.7 126.2H214.1M138.7 234.7H214.1M138.7 343.2H214.1" stroke="#ebebeb" stroke-width="0.5" fill="none"/>
<polygon points="183.4,33.8 183.3,34.8 183.1,35.8 182.8,36.8 182.9,37.7 182.6,38.7 182.5,39.7 182.2,40.7 181.6,41.6 181.3,42.6 181,44.4 180.6,45.3 180.6,46.3 181.1,47.2 181.6,48.2 181.3,49.9 182.5,51.7 181.1,52.6 179.9,53.6 180.2,54.5 180.6,55.5 179.1,57.2 178.9,58.3 178.4,59.4 179.4,60.4 179.9,61.3 178.4,63.1 179.6,64.8 179,65.8 178.4,66.7 178.9,67.7 179.1,68.6 177.7,70.4 178.1,72.2 177.2,73.6 178,74 179.6,73.6 181.3,72.2 183.5,70.4 183.1,68.6 184.2,67.7 184.2,66.7 183.8,65.8 182.5,64.8 183.5,63.1 184.2,61.3 183,60.4 182.8,59.4 185.9,58.3 188.6,57.2 187.9,55.5 188.3,54.5 189.4,53.6 189.7,52.6 188.9,51.7 188.6,49.9 190.4,48.2 190.4,47.2 190.8,46.3 189.5,45.3 187.2,44.4 185,42.6 184.6,41.6 184.4,40.7 184.7,39.7 184.5,38.7 184.3,37.7 184.5,36.8 184,35.8 184.8,34.8 184.2,33.8" fill="#ffff99"/>
<polygon points="178,74 175.5,74.4 175.2,75.6 175.2,76.6 177.7,78 178.1,79.2 178.4,80.2 177.7,81.7 177.7,83.5 174.7,84.6 174.3,86.1 173.8,87.1 173.8,88 174,89 174.5,90 174.6,91 174.3,91.9 175.5,93 176.2,94.1 176.4,95.2 176.9,96.3 176.2,97.4 174.7,98.5 175.2,99.6 175.5,100.7 176,101.8 176.9,102.9 176.2,103.9 175.8,104.8 175.5,105.8 175.2,106.8 174.7,107.7 170.4,109.2 172.2,110.4 174.7,111.7 176,112.8 176.9,113.9 177.2,115 177.7,116.1 177.5,117.1 176.9,118.2 177.1,119.2 177.8,120.2 178.4,121.2 179.1,122.9 179.1,124.1 179.9,124.3 181.3,124.1 190.1,122.9 181.3,121.2 180.9,120.2 180.1,119.2 179.9,118.2 181.3,117.1 182.8,116.1 183,115 183.5,113.9 181.5,112.8 179.9,111.7 177.6,110.4 175.5,109.2 179.9,107.7 179.3,106.8 179.1,105.8 180.4,104.8 181.4,103.9 182.8,102.9 183.4,101.8 184.2,100.7 182.8,99.6 181.3,98.5 183.3,97.4 185.7,96.3 183.7,95.2 181.3,94.1 180.6,93 179.9,91.9 179.6,91 179.4,90 179.1,89 180.7,88 182.4,87.1 184.2,86.1 208.4,84.6 197.4,83.5 185.7,81.7 198.9,80.2 188.6,79.2 184.2,78 193,76.6 185.7,75.6 179.9,74.4" fill="#b26f10"/>
<polygon points="179.9,124.3 177.7,124.6 177.4,125.7 176.9,126.8 176.4,127.9 176.2,129 178.4,130.4 178.4,131.5 178.4,132.6 177.9,133.7 177.7,134.8 177.8,135.9 178.1,137 179.2,137.7 179.9,137 181.4,135.9 182.8,134.8 183,133.7 182.1,132.6 181.1,131.5 180.6,130.4 179.9,129 180.1,127.9 179.9,126.8 180.1,125.7 181.3,124.6" fill="#ffff99"/>
<polygon points="179.2,137.7 178.1,138.5 177.8,139.6 177.7,140.7 177.1,141.8 179.1,140.7 179.8,139.6 180.6,138.5" fill="#b26f10"/>
<polygon points="177.1,141.8 171.8,142.9 172.4,144 172.5,145 172.8,146.1 173.3,147.2 173,148.3 172.5,149.4 171.7,150.4 174.7,149.4 175.8,148.3 177.7,147.2 177.7,146.1 178.4,145 179.7,144 179.9,142.9" fill="#ffff99"/>
<polygon points="171.7,150.4 168.5,151.3 168.3,152.6 168.9,153.8 169.6,154.9 170.4,156 175.5,157.5 175.5,158.7 177.7,157.5 178.4,156 177.1,154.9 175.5,153.8 173.5,152.6 171.1,151.3" fill="#b26f10"/>
<polygon points="175.5,158.7 172.5,160 170.1,161 167.7,161.9 165.2,162.9 164,163.9 163.4,164.9 162.3,165.8 162.8,166.9 163.8,168 153.5,169.1 143.3,170.2 145,171.3 147,172.4 149.5,173.5 152.1,174.6 153.3,175.6 155.2,176.6 156.5,177.5 160,178.6 163.8,179.7 176.9,181.2 155,182.2 149.9,183.4 150.6,184.4 150.9,185.3 151.4,186.3 152.3,187.3 153,188.3 153.5,189.2 153.2,190.2 152.7,191.2 152.1,192.2 152.5,193.1 153.2,194.1 153.5,195.1 153.9,196.1 154.5,197 155,198 155.3,199 156.1,200 156.5,200.9 156.6,202 157.2,203.1 175.5,204.3 180.2,204.8 177.7,204.3 178.4,203.1 178.8,202 179.1,200.9 179.8,200 179.3,199 179.9,198 179.7,197 179.7,196.1 179.9,195.1 179.7,194.1 180.8,193.1 180.6,192.2 181.2,191.2 182.1,190.2 183.5,189.2 183.2,188.3 182.4,187.3 182.1,186.3 181.8,185.3 183.1,184.4 182.8,183.4 182.1,182.2 181.3,181.2 177.7,179.7 176.5,178.6 176.2,177.5 177,176.6 176.7,175.6 176.9,174.6 176.7,173.5 175.5,172.4 176.7,171.3 178.4,170.2 178.8,169.1 179.1,168 178.9,166.9 178.4,165.8 178.4,164.9 177.5,163.9 176.9,162.9 176.3,161.9 176.9,161 176.2,160" fill="#ffff99"/>
<polygon points="180.2,204.8 176.9,205.3 180,205.9 190.8,205.3" fill="#b26f10"/>
<polygon points="180,205.9 175.5,206.5 162.3,207.5 155,209 154.3,209.5 154.6,210.4 154.8,211.3 154.9,212.2 155,213.2 155.6,214.1 155.9,215.1 156.5,216.1 159.4,217.2 162.3,218.3 164.8,219.4 167.4,220.5 172.5,221.9 173,223 174,224.1 166,225.2 157.9,226.3 163.9,227.4 169.6,228.5 170.7,229.6 171.8,230.7 171.1,231.8 170.4,232.9 170.4,233.9 170.6,234.8 171.1,235.8 166.3,236.8 161.6,237.7 169.6,239.5 172.6,240.6 175.5,241.7 170.5,242.6 165.2,243.6 172.5,245.3 176.2,247.1 179.5,248 182.1,247.1 180.6,245.3 179.9,243.6 179.5,242.6 178.4,241.7 178.6,240.6 179.9,239.5 179.9,237.7 179.3,236.8 179.9,235.8 179.3,234.8 178.8,233.9 178.4,232.9 176.1,231.8 174.7,230.7 175.5,229.6 176.9,228.5 176.9,227.4 176.2,226.3 177.3,225.2 179.1,224.1 179.6,223 179.9,221.9 175.5,220.5 175,219.4 174.7,218.3 174.2,217.2 173.3,216.1 172.6,215.1 171.6,214.1 171.1,213.2 171.5,212.2 171.4,211.3 171.6,210.4 172.5,209.5 175.5,209 176.2,207.5 176.9,206.5" fill="#ffff99"/>
<polygon points="179.5,248 176.9,249 177.3,250.1 177.7,251.2 178.4,252.3 179.1,253.4 179.1,254.5 178.4,255.6 177.7,256.4 178.3,257.5 178.4,258.6 180,259.7 181.3,260.8 182.5,261.9 184.2,263 187.2,264.5 186.3,265.2 191.6,264.5 195.9,263 193.3,261.9 190.1,260.8 188.4,259.7 186.4,258.6 185.2,257.5 183.5,256.4 182.8,255.6 181.9,254.5 181.3,253.4 181.6,252.3 182.1,251.2 182.2,250.1 182.8,249" fill="#b26f10"/>
<polygon points="186.3,265.2 179.1,265.9 179.5,267 179.9,268.1 187.9,268.9 186.4,268.1 187.4,267 187.2,265.9" fill="#ffff99"/>
<polygon points="187.9,268.9 187.9,269.6 189.2,270.3 197.4,269.6" fill="#b26f10"/>
<polygon points="189.2,270.3 179.9,271 177.9,272.1 175.5,273.2 175.4,274.2 174.8,275.2 174.7,276.2 175.4,277.1 175.9,278.1 176.2,279.1 179.9,280.5 177.5,281.6 174.7,282.7 174.5,283.7 174.1,284.7 174,285.7 173.6,286.8 173.3,287.9 172.8,288.8 172.6,289.8 172.5,290.8 173.7,291.9 174.7,293 182.8,294.4 184.1,295.5 185.7,296.6 185.1,297.7 185,298.8 189.6,298.8 190.8,298.8 190.9,297.7 190.8,296.6 191.2,295.5 190.8,294.4 191.6,293 192.4,291.9 192.3,290.8 192.8,289.8 191.9,288.8 192.3,287.9 192.1,286.8 192.3,285.7 191.8,284.7 192.3,283.7 191.6,282.7 190.8,281.6 190.8,280.5 190.8,279.1 190.8,278.1 190.9,277.1 191.6,276.2 191.6,275.2 192.6,274.2 192.3,273.2 191.5,272.1 191.6,271" fill="#ffff99"/>
<polygon points="189.6,298.8 190.4,298.9 190.8,299.4 190.8,300.4 190.8,301.4 190.4,302.1 188.3,302.5 192.3,302.1 201.1,301.4 210.6,300.4 201.1,299.4 192.3,298.9" fill="#b26f10"/>
<polygon points="188.3,302.5 178.4,302.9 178.2,303.9 178.1,305 177.7,306.1 177.7,307.2 177.5,308.3 177.7,309.4 177.7,310.5 176.2,311.9 182.5,312.7 175.8,313.7 176.1,314.6 176.2,315.6 183.5,317 176.9,318.1 176.9,319.2 176.9,321 177.2,321.9 176.9,322.9 176.2,324.4 157.9,325.1 156.5,326.5 156.5,327.6 156.8,328.7 157,329.8 157.2,330.9 157.2,332 156.9,333.1 156.8,334.2 156.5,335.3 156.8,336.4 156.9,337.5 157.1,338.6 157.2,339.7 157.5,341.5 157.9,342.9 192.7,342.9 192.1,341.5 193,339.7 192.8,338.6 192.1,337.5 193.2,336.4 193,335.3 192.3,334.2 192.1,333.1 192,332 193,330.9 192.2,329.8 192.1,328.7 192.9,327.6 193,326.5 192.3,325.1 192.7,324.4 192.1,322.9 192.7,321.9 193,321 192,319.2 192.3,318.1 192.3,317 192.3,315.6 192,314.6 192.3,313.7 192.3,312.7 192.3,311.9 192.3,310.5 192.2,309.4 192.9,308.3 192.7,307.2 192.3,306.1 192.4,305 192.1,303.9 192.3,302.9" fill="#ffff99"/>
<polyline points="184.2,33.8 184.8,34.8 184,35.8 184.5,36.8 184.3,37.7 184.5,38.7 184.7,39.7 184.4,40.7 184.6,41.6 185,42.6 187.2,44.4 189.5,45.3 190.8,46.3 190.4,47.2 190.4,48.2 188.6,49.9 188.9,51.7 189.7,52.6 189.4,53.6 188.3,54.5 187.9,55.5 188.6,57.2 185.9,58.3 182.8,59.4 183,60.4 184.2,61.3 183.5,63.1 182.5,64.8 183.8,65.8 184.2,66.7 184.2,67.7 183.1,68.6 183.5,70.4 181.3,72.2 179.6,73.6 175.5,74.4 175.2,75.6 175.2,76.6 177.7,78 178.1,79.2 178.4,80.2 177.7,81.7 177.7,83.5 174.7,84.6 174.3,86.1 173.8,87.1 173.8,88 174,89 174.5,90 174.6,91 174.3,91.9 175.5,93 176.2,94.1 176.4,95.2 176.9,96.3 176.2,97.4 174.7,98.5 175.2,99.6 175.5,100.7 176,101.8 176.9,102.9 176.2,103.9 175.8,104.8 175.5,105.8 175.2,106.8 174.7,107.7 170.4,109.2 172.2,110.4 174.7,111.7 176,112.8 176.9,113.9 177.2,115 177.7,116.1 177.5,117.1 176.9,118.2 177.1,119.2 177.8,120.2 178.4,121.2 179.1,122.9 179.1,124.1 181.3,124.6 180.1,125.7 179.9,126.8 180.1,127.9 179.9,129 180.6,130.4 181.1,131.5 182.1,132.6 183,133.7 182.8,134.8 181.4,135.9 179.9,137 178.1,138.5 177.8,139.6 177.7,140.7 179.9,142.9 179.7,144 178.4,145 177.7,146.1 177.7,147.2 175.8,148.3 174.7,149.4 168.5,151.3 168.3,152.6 168.9,153.8 169.6,154.9 170.4,156 175.5,157.5 176.2,160 176.9,161 176.3,161.9 176.9,162.9 177.5,163.9 178.4,164.9 178.4,165.8 178.9,166.9 179.1,168 178.8,169.1 178.4,170.2 176.7,171.3 175.5,172.4 176.7,173.5 176.9,174.6 176.7,175.6 177,176.6 176.2,177.5 176.5,178.6 177.7,179.7 181.3,181.2 182.1,182.2 182.8,183.4 183.1,184.4 181.8,185.3 182.1,186.3 182.4,187.3 183.2,188.3 183.5,189.2 182.1,190.2 181.2,191.2 180.6,192.2 180.8,193.1 179.7,194.1 179.9,195.1 179.7,196.1 179.7,197 179.9,198 179.3,199 179.8,200 179.1,200.9 178.8,202 178.4,203.1 177.7,204.3 176.9,205.3 176.9,206.5 176.2,207.5 175.5,209 172.5,209.5 171.6,210.4 171.4,211.3 171.5,212.2 171.1,213.2 171.6,214.1 172.6,215.1 173.3,216.1 174.2,217.2 174.7,218.3 175,219.4 175.5,220.5 179.9,221.9 179.6,223 179.1,224.1 177.3,225.2 176.2,226.3 176.9,227.4 176.9,228.5 175.5,229.6 174.7,230.7 176.1,231.8 178.4,232.9 178.8,233.9 179.3,234.8 179.9,235.8 179.3,236.8 179.9,237.7 179.9,239.5 178.6,240.6 178.4,241.7 179.5,242.6 179.9,243.6 180.6,245.3 182.1,247.1 176.9,249 177.3,250.1 177.7,251.2 178.4,252.3 179.1,253.4 179.1,254.5 178.4,255.6 177.7,256.4 178.3,257.5 178.4,258.6 180,259.7 181.3,260.8 182.5,261.9 184.2,263 187.2,264.5 187.2,265.9 187.4,267 186.4,268.1 187.9,269.6 191.6,271 191.5,272.1 192.3,273.2 192.6,274.2 191.6,275.2 191.6,276.2 190.9,277.1 190.8,278.1 190.8,279.1 190.8,280.5 190.8,281.6 191.6,282.7 192.3,283.7 191.8,284.7 192.3,285.7 192.1,286.8 192.3,287.9 191.9,288.8 192.8,289.8 192.3,290.8 192.4,291.9 191.6,293 190.8,294.4 191.2,295.5 190.8,296.6 190.9,297.7 190.8,298.8 190.4,298.9 190.8,299.4 190.8,300.4 190.8,301.4 190.4,302.1 192.3,302.9 192.1,303.9 192.4,305 192.3,306.1 192.7,307.2 192.9,308.3 192.2,309.4 192.3,310.5 192.3,311.9 192.3,312.7 192.3,313.7 192,314.6 192.3,315.6 192.3,317 192.3,318.1 192,319.2 193,321 192.7,321.9 192.1,322.9 192.7,324.4 192.3,325.1 193,326.5 192.9,327.6 192.1,328.7 192.2,329.8 193,330.9 192,332 192.1,333.1 192.3,334.2 193,335.3 193.2,336.4 192.1,337.5 192.8,338.6 193,339.7 192.1,341.5 192.7,342.9" fill="none" stroke="#8c8c70" stroke-width="0.45" stroke-linejoin="round"/>
<polyline points="183.4,33.8 183.3,34.8 183.1,35.8 182.8,36.8 182.9,37.7 182.6,38.7 182.5,39.7 182.2,40.7 181.6,41.6 181.3,42.6 181,44.4 180.6,45.3 180.6,46.3 181.1,47.2 181.6,48.2 181.3,49.9 182.5,51.7 181.1,52.6 179.9,53.6 180.2,54.5 180.6,55.5 179.1,57.2 178.9,58.3 178.4,59.4 179.4,60.4 179.9,61.3 178.4,63.1 179.6,64.8 179,65.8 178.4,66.7 178.9,67.7 179.1,68.6 177.7,70.4 178.1,72.2 177.2,73.6 179.9,74.4 185.7,75.6 193,76.6 184.2,78 188.6,79.2 198.9,80.2 185.7,81.7 197.4,83.5 208.4,84.6 184.2,86.1 182.4,87.1 180.7,88 179.1,89 179.4,90 179.6,91 179.9,91.9 180.6,93 181.3,94.1 183.7,95.2 185.7,96.3 183.3,97.4 181.3,98.5 182.8,99.6 184.2,100.7 183.4,101.8 182.8,102.9 181.4,103.9 180.4,104.8 179.1,105.8 179.3,106.8 179.9,107.7 175.5,109.2 177.6,110.4 179.9,111.7 181.5,112.8 183.5,113.9 183,115 182.8,116.1 181.3,117.1 179.9,118.2 180.1,119.2 180.9,120.2 181.3,121.2 190.1,122.9 181.3,124.1 177.7,124.6 177.4,125.7 176.9,126.8 176.4,127.9 176.2,129 178.4,130.4 178.4,131.5 178.4,132.6 177.9,133.7 177.7,134.8 177.8,135.9 178.1,137 180.6,138.5 179.8,139.6 179.1,140.7 171.8,142.9 172.4,144 172.5,145 172.8,146.1 173.3,147.2 173,148.3 172.5,149.4 171.1,151.3 173.5,152.6 175.5,153.8 177.1,154.9 178.4,156 177.7,157.5 172.5,160 170.1,161 167.7,161.9 165.2,162.9 164,163.9 163.4,164.9 162.3,165.8 162.8,166.9 163.8,168 153.5,169.1 143.3,170.2 145,171.3 147,172.4 149.5,173.5 152.1,174.6 153.3,175.6 155.2,176.6 156.5,177.5 160,178.6 163.8,179.7 176.9,181.2 155,182.2 149.9,183.4 150.6,184.4 150.9,185.3 151.4,186.3 152.3,187.3 153,188.3 153.5,189.2 153.2,190.2 152.7,191.2 152.1,192.2 152.5,193.1 153.2,194.1 153.5,195.1 153.9,196.1 154.5,197 155,198 155.3,199 156.1,200 156.5,200.9 156.6,202 157.2,203.1 175.5,204.3 190.8,205.3 175.5,206.5 162.3,207.5 155,209 154.3,209.5 154.6,210.4 154.8,211.3 154.9,212.2 155,213.2 155.6,214.1 155.9,215.1 156.5,216.1 159.4,217.2 162.3,218.3 164.8,219.4 167.4,220.5 172.5,221.9 173,223 174,224.1 166,225.2 157.9,226.3 163.9,227.4 169.6,228.5 170.7,229.6 171.8,230.7 171.1,231.8 170.4,232.9 170.4,233.9 170.6,234.8 171.1,235.8 166.3,236.8 161.6,237.7 169.6,239.5 172.6,240.6 175.5,241.7 170.5,242.6 165.2,243.6 172.5,245.3 176.2,247.1 182.8,249 182.2,250.1 182.1,251.2 181.6,252.3 181.3,253.4 181.9,254.5 182.8,255.6 183.5,256.4 185.2,257.5 186.4,258.6 188.4,259.7 190.1,260.8 193.3,261.9 195.9,263 191.6,264.5 179.1,265.9 179.5,267 179.9,268.1 197.4,269.6 179.9,271 177.9,272.1 175.5,273.2 175.4,274.2 174.8,275.2 174.7,276.2 175.4,277.1 175.9,278.1 176.2,279.1 179.9,280.5 177.5,281.6 174.7,282.7 174.5,283.7 174.1,284.7 174,285.7 173.6,286.8 173.3,287.9 172.8,288.8 172.6,289.8 172.5,290.8 173.7,291.9 174.7,293 182.8,294.4 184.1,295.5 185.7,296.6 185.1,297.7 185,298.8 192.3,298.9 201.1,299.4 210.6,300.4 201.1,301.4 192.3,302.1 178.4,302.9 178.2,303.9 178.1,305 177.7,306.1 177.7,307.2 177.5,308.3 177.7,309.4 177.7,310.5 176.2,311.9 182.5,312.7 175.8,313.7 176.1,314.6 176.2,315.6 183.5,317 176.9,318.1 176.9,319.2 176.9,321 177.2,321.9 176.9,322.9 176.2,324.4 157.9,325.1 156.5,326.5 156.5,327.6 156.8,328.7 157,329.8 157.2,330.9 157.2,332 156.9,333.1 156.8,334.2 156.5,335.3 156.8,336.4 156.9,337.5 157.1,338.6 157.2,339.7 157.5,341.5 157.9,342.9" fill="none" stroke="#1a1a1a" stroke-width="0.6" stroke-linejoin="round" stroke-dasharray="2.2 0.7 0.6 0.7"/>
<text x="189.4" y="98.9" class="an">Non</text><text x="189.4" y="107.4" class="an">-net</text><text x="189.4" y="115.9" class="an">pay</text>
<text x="162.8" y="190.3" class="an">Net</text><text x="162.8" y="198.8" class="an">pay</text>
<text x="157.2" y="317.6" class="an" style="font-size:5.4px">RHOB</text><text x="195.6" y="327.4" class="an" style="font-size:5.6px">NPHI</text>
<rect x="138.7" y="19.4" width="75.4" height="338.8" fill="none" stroke="#737373" stroke-width="1.2"/>
<path d="M142.9 358.2v2.2M158.7 358.2v2.2M174.5 358.2v2.2M190.3 358.2v2.2M206.1 358.2v2.2M138.7 126.2h-2.2M138.7 234.7h-2.2M138.7 343.2h-2.2" stroke="#333" stroke-width="0.7" fill="none"/>
<text x="141.2" y="368" class="tk">2.0</text>
<text x="157" y="368" class="tk">2.2</text>
<text x="172.8" y="368" class="tk">2.4</text>
<text x="188.6" y="368" class="tk">2.6</text>
<text x="204.4" y="368" class="tk">2.8</text>
<text x="175.6" y="376.9" class="ti">RHOB g/cm3</text>
<path d="M144.1 19.4v-2.2M157.9 19.4v-2.2M171.7 19.4v-2.2M185.5 19.4v-2.2M199.3 19.4v-2.2M213.1 19.4v-2.2" stroke="#333" stroke-width="0.7"/>
<text x="142" y="15.6" class="tk">40</text>
<text x="155.8" y="15.6" class="tk">30</text>
<text x="169.6" y="15.6" class="tk">20</text>
<text x="183.4" y="15.6" class="tk">10</text>
<text x="197.2" y="15.6" class="tk">0</text>
<text x="211" y="15.6" class="tk">-10</text>
<text x="175" y="8.7" class="ti">NPHI %</text>
<text transform="translate(146.5 30.2) scale(0.84 1)" class="lt">B</text>
<rect x="221.3" y="19.4" width="75.2" height="338.8" fill="#fff"/>
<path d="M233.9 19.4V358.2M251.1 19.4V358.2M268.3 19.4V358.2M285.5 19.4V358.2M221.3 71.9H296.6M221.3 180.4H296.6M221.3 288.9H296.6" stroke="#f4f4f4" stroke-width="0.4" fill="none"/>
<path d="M225.3 19.4V358.2M242.5 19.4V358.2M259.7 19.4V358.2M276.9 19.4V358.2M294.1 19.4V358.2M221.3 126.2H296.6M221.3 234.7H296.6M221.3 343.2H296.6" stroke="#ebebeb" stroke-width="0.5" fill="none"/>
<polyline points="258.5,35.3 258.7,36.2 258.7,37.1 259.2,38 259.9,38.2 258.9,38.9 258.8,39.8 258.2,40.4 258.2,40.7 258.8,41.6 259.7,42.5 259.2,42.6 259.5,43.4 260.5,44.3 262,45.2 262.1,45.5 261.2,46.1 260.7,47 260.7,47.9 260.7,48.5 260.5,48.8 261.7,49.7 262.4,50.6 262.9,50.7 262.6,51.5 262.1,52.4 261.1,53.3 261.4,53.6 262.4,54.2 263.4,55.1 264.3,55.8 263.7,56 264.2,56.9 262.6,57.8 262.9,58 263.6,58.7 265,59.6 266.5,60.2 266.5,60.5 266.2,61.4 265.5,62.3 265.1,62.4 266.1,63.2 267.1,64.1 268,64.5 266.7,65 266.4,65.9 265.1,66.7 265.3,66.8 266.5,67.7 268.4,68.6 268.7,68.9 267.9,69.5 267.4,70.4 265.8,71.1 265.7,71.3 263.3,72.2 262.9,72.6 262.2,73.1 258.9,74 257.8,74.8 257.8,74.9 257.6,75.8 257.7,76 255.8,76.7 255.6,77 257.6,77.6 260.7,78.2 258.7,78.5 253.4,79.2 252.1,79.4 250.7,80.3 250.4,80.4 250.4,81.2 248.6,82.1 248,83 248.2,83.3 249,83.9 249.7,84.8 250.4,85.5 252.5,85.7 260.7,86.6 267.2,87.4 266.5,87.5 264,88.4 262.1,89.2 262,89.3 262.3,90.2 264.1,91.1 264.7,92 264.3,92.1 264.4,92.9 263.2,93.8 264.1,94.7 263.6,95 262.3,95.6 259.4,96.5 257.3,97.4 255.5,97.9 255,98.3 253.6,99.2 252.3,100.1 251.9,100.8 251.4,101 250.5,101.9 250.4,102.8 250.4,103 252.3,103.7 254.4,104.6 255.5,105.2 255.9,105.5 255.1,106.4 253.8,107.3 254.1,107.4 256.2,108.2 258.5,109.1 260,109.6 261.7,110 264.5,110.9 265,111.1 261.8,111.8 258.8,112.7 256.3,113.3 256.7,113.6 255.1,114.5 255.4,115.4 254.8,115.5 256.6,116.3 259.7,117.2 261.4,117.7 261.5,118.1 263.1,119 263.6,119.9 264.3,119.9 264.6,120.8 264.7,121.7 266.2,122.6 265.8,122.8 266,123.5 266.5,124 265.4,124.4 264.8,125.3 263.6,125.7 262.9,126.2 261.4,126.9 261,127.1 257.8,128 255.1,128.9 251.3,129.8 251.2,129.8 250.5,130.7 249.1,131.6 248.2,132 250.7,132.5 254,133.4 258.2,134.3 260.6,135 260.4,135.2 258.7,136.1 257.2,137 256.3,137.9 256.4,137.9 254.8,138.8 255,139.7 254.1,140.1 256.5,140.6 261.3,141.5 266.3,142.4 270.2,143 270.2,143.3 267.5,144.2 265.5,145.1 264.3,145.9 263.9,146 266.3,146.9 269.6,147.8 270.2,148.1 271.8,148.7 274,149.6 276.2,150.5 277.5,151.4 278.9,151.8 275.9,152.3 270.2,153.2 265.8,154 265.7,154.1 262.1,155 258.6,155.9 257,156.2 259.3,156.8 264.5,157.7 268.6,158.6 270.2,159.1 272.7,159.5 275.6,160.4 279.8,161.3 283.3,162 283.2,162.2 285.1,163.1 288.1,164 290,164.9 291.7,165.8 292.8,166.4 291.1,166.7 284.5,167.6 277.7,168.5 277.5,168.6 261.8,169.4 250.5,170.1 249.9,170.3 250.8,171.2 250.4,172 249.9,172.1 249,173 248.7,173 248.9,173.9 248.3,174.8 249,174.9 248.9,175.7 249.3,176.6 250.3,177.5 250.2,178.4 250.4,178.6 249.2,179.3 248.9,180.2 247.5,180.8 247.4,181.1 247.6,182 247,182.9 246.8,183 248.2,183.8 250.4,184.4 250,184.7 249.2,185.6 248.7,186.5 248.2,186.6 247.9,187.4 248.2,188.3 247.8,189.2 247.1,190.1 247.9,191 246.6,191.9 247.4,192.8 246.4,193.7 246.8,193.9 246,194.6 246.2,195.5 246.8,196.4 247,197.3 245.5,198.2 246.1,199.1 246,199.8 245.8,200 245.3,200.9 243.6,201.8 243.1,202.7 243.1,202.7 237.8,203.6 233.3,204.5 230.7,204.9 228.3,205.4 225.7,206.3 224.9,206.4 230.5,207.2 236.6,208.1 238,208.3 241.1,209 244.2,209.9 244.6,210 244.4,210.8 245.6,211.7 245.3,212.6 246,212.9 246.2,213.5 245.6,214.4 245.3,215.3 244.6,215.9 244.6,216.2 243.8,217.1 243.4,218 243.1,218.8 243.5,218.9 248.1,219.8 250.9,220.7 252.7,221 259.5,221.6 267.3,222.4 267.7,222.5 274.5,222.9 274.1,223.4 274.6,223.5 265.2,224.3 257,225.1 257.3,225.2 254,226.1 251.2,227 250.4,227.3 250.5,227.9 248.9,228.8 248.6,229.7 248.2,230.2 247.2,230.6 245.1,231.5 242.6,232.4 240.2,233.2 240.4,233.3 240.2,234.2 240.3,235.1 240.3,236 240.9,236.8 241.4,236.9 240.7,237.8 240.3,238.7 239.1,239.6 239.5,239.7 241.3,240.5 244,241.4 246,242.3 246.8,242.7 247.8,243.2 250.7,244.1 253.8,245 254.8,245.6 252.4,245.9 246.6,246.8 241.1,247.7 240.9,247.8 237.5,248.6 234.4,249.2 236.2,249.5 239.7,250.4 244.2,251.3 245.3,251.4 246.8,252.2 249,253.1 250.4,253.6 249.3,254 246.1,254.9 243.6,255.8 243.9,255.8 241.9,256.7 241.4,257.6 239.5,258.5 238.7,258.7 238.7,259.4 240.6,260.3 240,261.2 240.9,261.7 240.7,262.1 241.3,263 240.8,263.9 240.2,264.6 241,264.8 242.3,265.7 243.8,266.6 244.6,266.8 247.7,267.5 250.5,268.4 253.4,269 252.4,269.3 252.6,269.5 249.9,270.2 246.3,271.1 246.8,271.2 243.2,271.6 244.3,272 248.2,272.9 251.5,273.8 254.1,274.6 254.4,274.7 256.3,275.6 257.9,276.5 258.5,276.8 256.1,277.4 254,278.3 251.9,279 252.8,279.2 257.2,280.1 261.3,281 261.4,281.2 265.3,281.9 270.3,282.8 273.1,283.4 272.5,283.7 269.6,284.6 267,285.5 267.3,285.5 265.2,286.4 263.1,287.3 261.4,287.7 260.2,288.2 257.1,289.1 254.1,289.9 254.7,290 256.3,290.9 257,291.4 250.4,291.8 238,292.6 237,292.7 230.9,293.6 228.5,294 230.5,294.5 233.1,295.4 235.1,295.8 233.7,296.3 232.1,297.2 230,298 231.7,298.1 241.1,299 245.3,299.4 247.8,299.9 253.5,300.8 254.1,300.9 248.7,301.7 244.6,302.4 246.4,302.6 252,303.5 254.1,303.8 258.5,304.4 264.3,305.3 264.9,305.3 264.1,306.2 265,307.1 265.4,308 265.1,308.2 264.5,308.9 264.1,309.8 264.2,310.7 262.4,311.6 262.9,311.9 262.6,312.5 261.6,313.4 262,314.3 261.4,314.8 261.5,315.2 259.9,316 259.5,316.1 255.5,317 254.9,317 254.8,317.5 256.8,317.9 260.6,318.8 262.1,319.2 262.8,319.7 262.8,320.4 262,320.6 258.6,321.5 255.2,322.4 254.1,322.6 251.2,323.3 247.4,324.2 245.3,324.8 244.9,325.1 241.2,326 239.2,326.9 238.8,327 239.2,327.8 240.4,328.7 240.2,329.6 240.9,329.9 241.4,330.5 240.2,331.4 240.2,332.1 239.7,332.3 240.4,333.2 241.1,334.1 241.7,335 240.8,335.9 241.1,336.8 240.9,337.7 240.9,337.9 241.5,338.6 241.5,339.5 241.8,340.4 242.4,340.9" fill="none" stroke="#3030ff" stroke-width="0.75" stroke-linejoin="round" stroke-dasharray="2.4 0.9"/>
<polyline points="247.5,33.9 247.4,34.8 248,35.6 248.3,36.5 247.9,36.8 248,37.5 247.9,38.4 248.5,39.2 248.2,39.7 248.3,40.1 248.3,41 248.5,42 249,42.6 249.3,42.9 249.4,43.8 249.4,44.6 249.4,45.5 249.7,46.5 249.7,47 249.4,47.4 249.9,48.2 249.2,49.1 249.3,50 249.3,51 249,51.4 249.3,51.9 249.1,52.8 249,53.6 249.3,54.5 249,55.5 249.4,55.8 249.8,56.4 249.5,57.2 250,58.1 249.6,59 249.9,60 250,60.2 249.8,60.9 250.1,61.8 250,62.6 249.9,63.5 250.6,64.5 250.4,64.5 250.4,65.3 250.5,66.2 250.8,67.2 251.1,68 251.2,68.2 251.7,69 252.6,69.8 252.9,70.4 252.7,70.8 251.4,71.7 250.9,72.5 250.4,72.6 248.5,73.5 245.3,74.3 244.6,74.8 245.3,75.2 246.3,76.2 246.8,77 247.1,77 247.2,78 248.5,78.8 248.2,78.9 247.5,79.2 246.7,79.8 244.6,80.7 243.2,81.5 243.1,81.8 242.9,82.5 241.8,83.3 240.5,84.2 240.2,84.8 240.8,85.2 243.1,86 245.4,87 247.5,87.7 247.9,87.8 248.4,88.8 249.2,89.7 250.7,90.5 250.4,90.6 250.5,91.5 249.8,92.3 250.3,93.2 249.8,94.2 249.7,94.3 249.2,95 248.2,96 247.5,96.8 246.5,97.8 246,97.9 245.8,98.7 244.5,99.5 244.2,100.5 243.3,101.3 243.1,101.6 244.3,102.2 245.4,103.2 247.2,104 247.5,104.5 247.8,105 248,105.8 248.4,106.8 249,107.4 249.2,107.7 251.6,108.5 253.3,109.5 254.1,109.6 253,110.3 251.3,111.2 250.3,112.2 249.7,112.5 248.9,113 247.4,114 246.2,114.8 245.3,115.2 245.9,115.8 248.2,116.7 249.5,117.5 249.7,117.7 250.2,118.5 250.9,119.3 251.6,120.2 251.7,121.2 251.9,121.3 252.2,122 253.2,123 252.9,123.8 253.4,124 251.8,124.8 251.2,125 250.9,125.7 249.9,126.5 249.9,127.5 249.7,127.7 248.9,128.3 247.9,129.2 246.1,130.2 245.4,131.1 244.6,131.3 245.9,131.9 247.7,132.8 249.8,133.8 250.4,134.2 249.7,134.7 249.6,135.6 248.9,136.4 248.2,137.2 248,137.3 247.8,138.2 246.8,139.2 246.8,139.3 249.2,140.1 252.4,140.9 255.8,141.8 257,142.3 256.5,142.8 256.1,143.7 255.6,144.6 255.2,145.4 254.8,145.9 255.7,146.3 256.4,147.2 257.7,148.1 258.1,148.2 258.1,149.1 258.7,149.9 258.9,150.8 259.2,151.1 257.5,151.8 255.6,152.7 253.1,153.6 251.9,154 251.5,154.4 249.9,155.3 249,156.2 249,156.2 250.5,157.2 252.3,158.1 254,158.9 254.1,159.1 255.7,159.8 256.6,160.8 258.8,161.7 259.2,162 260.3,162.6 261.2,163.4 262.1,164.2 261.8,164.3 262.2,165.2 262.1,166.2 262.4,167.1 262.9,167.9 263.1,167.9 261,168.8 259.2,169.8 258.5,170.1 257.8,170.7 256.6,171.6 255.5,172 254.1,172.2 253.8,172.4 252.1,173.3 250.4,174.2 250.5,174.2 250.4,175.2 250.1,176.1 250,176.9 249.7,177.8 250.1,178.8 251.2,179.7 251.7,180.6 251.9,180.8 252.6,181.4 252.6,182.3 253.4,183 252.2,183.2 249.4,184.2 249,184.4 249.1,185.1 249,185.9 248.6,186.8 248.2,187.8 248.2,188.1 248.5,188.7 248.3,189.6 248,190.4 247.6,191.3 247.5,192.2 247.5,193.2 247.5,193.9 247.3,194.1 247.2,194.9 247.2,195.8 247.2,196.8 246.2,197.7 246.4,198.6 245.7,199.4 246,199.8 245.4,200.3 245.6,201.2 244.9,202.2 244.6,202.7 243.2,203.1 238.3,203.9 233.4,204.8 233.6,204.9 229.2,205.8 226.3,206.4 228.2,206.7 234,207.6 238,208.3 239.2,208.4 242.1,209.3 244.6,210 244.7,210.2 245.1,211.2 246.2,212.1 246.8,212.9 246.5,212.9 246,213.8 245.4,214.8 245,215.7 245.3,215.9 245,216.6 243.8,217.4 243.9,218.3 243.1,218.8 245.7,219.2 252.1,220.2 257,221 256.7,221.1 257,221.5 256.3,221.9 256.5,222.8 255.6,223.8 255.5,224.4 255.1,224.7 252.6,225.6 250.3,226.4 250.4,226.6 250.1,227.3 249.4,228.2 248.8,229.2 248.2,229.5 247.2,230.1 244.7,230.9 243.2,231.8 241.3,232.8 240.2,233.2 240.9,233.7 242.7,234.6 243.4,235.4 244.6,236.1 245.1,236.3 245.4,237.2 245.2,238.2 246,239 245.5,239.1 244.5,239.9 243.1,240.8 240.9,241.8 240.9,241.9 242,242.7 244,243.6 245,244.4 246,244.8 245.6,245.3 243.9,246.2 242.2,247.2 241.7,247.8 241.3,248.1 240.8,248.9 240.1,249.8 239.5,250.7 239.7,250.8 240.8,251.7 243,252.6 244.2,253.4 244.6,253.6 243.8,254.3 242.7,255.2 241.4,256.1 240.9,256.6 240.5,257.1 240.1,257.9 239.6,258.9 238.7,259.5 239.3,259.8 240,260.6 240.6,261.6 241.7,262.4 241.3,262.4 241.8,263.4 241.4,264.2 241.3,265.1 240.9,265.3 241.5,266.1 242.7,266.9 243.9,267.9 243.8,268.2 243.4,268.8 241.8,269.6 240.2,270.6 239.5,271.2 239.8,271.4 240.2,271.6 242.5,272.4 244.5,273.2 247.2,274.1 248.2,274.6 248.8,275.1 250,275.9 250.4,276.8 250.6,276.9 249,277.8 247.6,278.6 246.7,279.6 246.8,279.7 247.3,280.4 248.1,281.4 249,282.2 249,282.6 249.8,283.1 250,284.1 251.6,284.9 251.9,285.5 251.2,285.9 248.3,286.8 245.1,287.6 242.4,288.5 242,288.6 240.3,289.4 238,290.4 235.6,291.2 235.1,291.4 234.4,292.1 232.7,293.1 232.2,293.6 233.4,293.9 237.9,294.9 238.7,295.1 236.2,295.8 232.1,296.6 230,297.2 232.2,297.6 238,298.4 243.1,299.4 243.8,299.4 242.5,300.2 241,301.1 239.5,301.9 240.2,302.1 245.2,302.9 250.4,303.8 250.3,303.9 251.9,304.8 253.1,305.6 253.4,306 253.3,306.6 252.8,307.4 253.3,308.4 253.2,309.2 252.6,310.1 252.8,311.1 252.6,311.9 252.9,311.9 252.2,312.9 251.1,313.8 250.4,314.6 249.7,315.5 249.8,315.6 249.7,316 249.3,316.4 249,317.4 248.7,318.2 249,318.4 249,318.9 249.3,319.1 249.6,320.1 250.4,320.9 250.4,321.1 249.4,321.9 248.3,322.8 247.5,323.3 246.9,323.6 245.9,324.6 245.8,325.4 244.6,326.2 244.5,326.4 244.1,327.2 244.4,328.1 244.4,329.1 243.7,329.9 243.9,330.6 243.9,330.9 243.7,331.8 243.9,332.6 243.4,333.6 243.4,334.4 244.3,335.4 244.2,336.2 243.9,336.5 243.8,337.1 243.7,338.1 243.4,338.9 243.7,339.9 243.3,340.8 243.7,341.6 243.4,342.6 243.1,343.1" fill="none" stroke="#4a9a48" stroke-width="0.9" stroke-linejoin="round"/>
<rect x="260" y="329" width="36" height="28" fill="#fff"/>
<path d="M265.5 337.2H275.3" stroke="#4a9a48" stroke-width="0.9"/><path d="M265.5 349.6H275.3" stroke="#2b2bff" stroke-width="0.7"/>
<text x="279.7" y="339" class="lg" style="font-size:4.3px">DTCO</text><text x="279.7" y="351.4" class="lg" style="font-size:4.3px">DTS</text>
<rect x="221.3" y="19.4" width="75.2" height="338.8" fill="none" stroke="#737373" stroke-width="1.2"/>
<path d="M225.3 358.2v2.2M242.5 358.2v2.2M259.7 358.2v2.2M276.9 358.2v2.2M294.1 358.2v2.2M221.3 126.2h-2.2M221.3 234.7h-2.2M221.3 343.2h-2.2" stroke="#333" stroke-width="0.7" fill="none"/>
<text x="223.4" y="368" class="tk">60</text>
<text x="240.6" y="368" class="tk">90</text>
<text x="257.8" y="368" class="tk">120</text>
<text x="275" y="368" class="tk">150</text>
<text x="292.2" y="368" class="tk">180</text>
<text x="257.6" y="376.9" class="ti">DTCO us/ft</text>
<path d="M233.7 19.4v-2.2M248 19.4v-2.2M262.2 19.4v-2.2M276.4 19.4v-2.2M290.7 19.4v-2.2" stroke="#333" stroke-width="0.7"/>
<text x="231.8" y="15.6" class="tk">150</text>
<text x="246.1" y="15.6" class="tk">200</text>
<text x="260.3" y="15.6" class="tk">250</text>
<text x="274.6" y="15.6" class="tk">300</text>
<text x="288.8" y="15.6" class="tk">350</text>
<text x="257.4" y="8.7" class="ti">DTS us/ft</text>
<text transform="translate(225.5 30.2) scale(0.84 1)" class="lt">C</text>
<rect x="304.5" y="19.4" width="72.8" height="338.8" fill="#fff"/>
<path d="M316.4 19.4V358.2M332.8 19.4V358.2M349.1 19.4V358.2M365.4 19.4V358.2M304.5 71.9H377.2M304.5 180.4H377.2M304.5 288.9H377.2" stroke="#f4f4f4" stroke-width="0.4" fill="none"/>
<path d="M308.3 19.4V358.2M324.6 19.4V358.2M340.9 19.4V358.2M357.2 19.4V358.2M373.5 19.4V358.2M304.5 126.2H377.2M304.5 234.7H377.2M304.5 343.2H377.2" stroke="#ebebeb" stroke-width="0.5" fill="none"/>
<defs><linearGradient id="vg" gradientUnits="userSpaceOnUse" x1="0" y1="34.6" x2="0" y2="343"><stop offset="0.0000" stop-color="#f2d600"/><stop offset="0.0024" stop-color="#f2d500"/><stop offset="0.0118" stop-color="#eac400"/><stop offset="0.0213" stop-color="#e6bd00"/><stop offset="0.0308" stop-color="#e4b900"/><stop offset="0.0403" stop-color="#e0b300"/><stop offset="0.0521" stop-color="#deaf00"/><stop offset="0.0592" stop-color="#e3b700"/><stop offset="0.0687" stop-color="#e6bd00"/><stop offset="0.0758" stop-color="#e4b900"/><stop offset="0.0853" stop-color="#e6bd00"/><stop offset="0.0972" stop-color="#e8c000"/><stop offset="0.1066" stop-color="#eac400"/><stop offset="0.1161" stop-color="#e8c000"/><stop offset="0.1256" stop-color="#eac400"/><stop offset="0.1351" stop-color="#efcf00"/><stop offset="0.1422" stop-color="#e8c000"/><stop offset="0.1485" stop-color="#f7e000"/><stop offset="0.1493" stop-color="#f4da00"/><stop offset="0.1556" stop-color="#fdef00"/><stop offset="0.1564" stop-color="#f9e400"/><stop offset="0.1651" stop-color="#f7e000"/><stop offset="0.1722" stop-color="#eecc00"/><stop offset="0.1817" stop-color="#eac400"/><stop offset="0.1912" stop-color="#ebc700"/><stop offset="0.2006" stop-color="#f2d500"/><stop offset="0.2101" stop-color="#f7e000"/><stop offset="0.2172" stop-color="#fae800"/><stop offset="0.2243" stop-color="#f2d500"/><stop offset="0.2314" stop-color="#eac400"/><stop offset="0.2352" stop-color="#deaf00"/><stop offset="0.2376" stop-color="#962c00"/><stop offset="0.2442" stop-color="#962c00"/><stop offset="0.2471" stop-color="#deaf00"/><stop offset="0.2504" stop-color="#f7e000"/><stop offset="0.2575" stop-color="#edca00"/><stop offset="0.2670" stop-color="#e5bb00"/><stop offset="0.2765" stop-color="#e4b900"/><stop offset="0.2859" stop-color="#e1b500"/><stop offset="0.2899" stop-color="#deaf00"/><stop offset="0.2970" stop-color="#dcad00"/><stop offset="0.3041" stop-color="#e4b900"/><stop offset="0.3112" stop-color="#f2d500"/><stop offset="0.3183" stop-color="#eecc00"/><stop offset="0.3278" stop-color="#e3b700"/><stop offset="0.3373" stop-color="#e8c000"/><stop offset="0.3444" stop-color="#e0b300"/><stop offset="0.3515" stop-color="#cc9200"/><stop offset="0.3586" stop-color="#deaf00"/><stop offset="0.3657" stop-color="#e6bd00"/><stop offset="0.3728" stop-color="#deaf00"/><stop offset="0.3790" stop-color="#d6a300"/><stop offset="0.3847" stop-color="#e0b300"/><stop offset="0.3918" stop-color="#e9c200"/><stop offset="0.4013" stop-color="#deaf00"/><stop offset="0.4084" stop-color="#d49f00"/><stop offset="0.4179" stop-color="#d19b00"/><stop offset="0.4250" stop-color="#cf9600"/><stop offset="0.4283" stop-color="#c58501"/><stop offset="0.4311" stop-color="#a64b02"/><stop offset="0.4340" stop-color="#c58501"/><stop offset="0.4368" stop-color="#d19b00"/><stop offset="0.4397" stop-color="#f9e400"/><stop offset="0.4406" stop-color="#fae800"/><stop offset="0.4455" stop-color="#fbea00"/><stop offset="0.4510" stop-color="#fbea00"/><stop offset="0.4597" stop-color="#fbec00"/><stop offset="0.4716" stop-color="#fced00"/><stop offset="0.4749" stop-color="#f2d500"/><stop offset="0.4777" stop-color="#d6a300"/><stop offset="0.4806" stop-color="#eac400"/><stop offset="0.4834" stop-color="#f2d500"/><stop offset="0.4882" stop-color="#f9e600"/><stop offset="0.4976" stop-color="#fbea00"/><stop offset="0.5118" stop-color="#fced00"/><stop offset="0.5261" stop-color="#fdef00"/><stop offset="0.5403" stop-color="#fdf100"/><stop offset="0.5569" stop-color="#fef300"/><stop offset="0.5640" stop-color="#fced00"/><stop offset="0.5735" stop-color="#fbec00"/><stop offset="0.5877" stop-color="#fbea00"/><stop offset="0.5995" stop-color="#fae800"/><stop offset="0.6043" stop-color="#deaf00"/><stop offset="0.6104" stop-color="#b66a03"/><stop offset="0.6177" stop-color="#c58501"/><stop offset="0.6248" stop-color="#eac400"/><stop offset="0.6295" stop-color="#d19b00"/><stop offset="0.6352" stop-color="#c88a01"/><stop offset="0.6428" stop-color="#deaf00"/><stop offset="0.6461" stop-color="#edca00"/><stop offset="0.6494" stop-color="#d19b00"/><stop offset="0.6556" stop-color="#e3b700"/><stop offset="0.6622" stop-color="#f3d700"/><stop offset="0.6675" stop-color="#deaf00"/><stop offset="0.6722" stop-color="#d7a400"/><stop offset="0.6803" stop-color="#eecc00"/><stop offset="0.6864" stop-color="#cb9000"/><stop offset="0.6935" stop-color="#deaf00"/><stop offset="0.6983" stop-color="#e5bb00"/><stop offset="0.7044" stop-color="#c98d01"/><stop offset="0.7125" stop-color="#d19b00"/><stop offset="0.7172" stop-color="#dbaa00"/><stop offset="0.7234" stop-color="#cb9000"/><stop offset="0.7291" stop-color="#d9a700"/><stop offset="0.7362" stop-color="#deaf00"/><stop offset="0.7433" stop-color="#e1b500"/><stop offset="0.7504" stop-color="#d9a700"/><stop offset="0.7585" stop-color="#b97003"/><stop offset="0.7615" stop-color="#c58501"/><stop offset="0.7686" stop-color="#daa900"/><stop offset="0.7757" stop-color="#cb9000"/><stop offset="0.7851" stop-color="#d09900"/><stop offset="0.7946" stop-color="#d29d00"/><stop offset="0.8017" stop-color="#d6a300"/><stop offset="0.8088" stop-color="#c88c01"/><stop offset="0.8160" stop-color="#ca8e00"/><stop offset="0.8231" stop-color="#deaf00"/><stop offset="0.8278" stop-color="#d49f00"/><stop offset="0.8349" stop-color="#c68701"/><stop offset="0.8411" stop-color="#d9a700"/><stop offset="0.8468" stop-color="#e4b900"/><stop offset="0.8539" stop-color="#edca00"/><stop offset="0.8586" stop-color="#f9e400"/><stop offset="0.8657" stop-color="#e8c000"/><stop offset="0.8728" stop-color="#eac400"/><stop offset="0.8799" stop-color="#d49f00"/><stop offset="0.8870" stop-color="#cf9600"/><stop offset="0.8965" stop-color="#d09900"/><stop offset="0.9036" stop-color="#d49f00"/><stop offset="0.9122" stop-color="#d09900"/><stop offset="0.9123" stop-color="#d19b00"/><stop offset="0.9171" stop-color="#e5bb00"/><stop offset="0.9179" stop-color="#deaf00"/><stop offset="0.9242" stop-color="#d6a300"/><stop offset="0.9336" stop-color="#cc9200"/><stop offset="0.9431" stop-color="#c58501"/><stop offset="0.9479" stop-color="#f7e000"/><stop offset="0.9526" stop-color="#fced00"/><stop offset="0.9692" stop-color="#fcef00"/><stop offset="1.0000" stop-color="#fcef00"/></linearGradient></defs>
<polygon points="308.3,34.58 319.4,34.58 319.7,35.31 324.0,38.23 326.2,41.16 327.7,44.08 329.8,47.01 331.3,50.66 328.4,52.85 326.2,55.78 327.7,57.97 326.2,60.89 325.5,64.55 324.0,67.47 325.5,70.40 324.0,73.32 321.1,76.25 325.5,78.44 316.7,80.39 318.2,80.63 310.9,82.58 315.3,82.82 316.7,85.50 321.8,87.70 324.0,90.62 323.3,93.54 319.7,96.47 316.7,99.39 313.8,101.58 319.7,103.78 324.0,105.97 331.3,107.14 373.5,107.87 373.5,109.92 331.3,110.80 316.7,111.82 322.6,114.01 326.9,116.94 327.7,119.86 329.1,122.78 331.3,124.00 332.0,126.19 327.7,128.39 319.7,130.58 321.8,132.77 328.4,135.70 325.5,138.62 329.8,140.81 341.5,143.01 331.3,145.20 326.2,147.39 331.3,149.58 335.7,151.49 329.8,153.24 324.7,155.43 331.3,158.36 337.1,160.55 338.6,163.47 340.0,165.67 345.8,166.69 364.0,167.57 345.8,168.44 338.6,169.32 315.3,170.20 313.8,170.49 313.1,172.00 313.1,173.71 312.4,176.39 311.6,180.04 319.7,181.06 335.7,181.94 324.0,182.82 319.7,183.70 314.6,185.16 313.1,188.08 311.6,192.47 310.9,196.85 310.2,201.24 309.5,206.36 311.6,208.55 312.4,211.47 313.1,215.86 313.8,219.51 331.3,220.98 354.6,222.88 345.8,225.12 324.0,227.31 338.6,228.77 344.1,230.53 331.3,232.87 322.6,233.89 338.6,234.91 328.4,236.81 318.9,238.86 331.3,240.47 335.4,241.93 321.8,244.42 342.2,246.32 331.3,248.51 327.2,249.97 343.2,251.87 338.6,254.36 333.0,255.82 342.2,257.72 334.2,259.47 331.3,261.67 329.1,263.86 334.2,266.05 352.7,268.54 345.8,269.46 333.5,271.65 342.2,273.85 339.3,276.77 337.8,279.70 335.7,281.89 343.7,284.08 342.9,286.27 331.3,288.47 337.1,289.93 345.1,292.12 334.2,294.02 327.7,295.78 322.6,297.97 315.3,299.43 325.5,301.63 324.0,303.82 337.1,306.01 340.0,308.20 339.3,311.13 337.1,313.32 339.3,315.95 338.6,316.00 326.9,317.46 331.3,317.71 335.7,319.65 341.5,322.58 345.8,325.50 316.7,326.96 311.6,328.43 311.2,333.54 311.2,343.05 308.3,343.05" fill="url(#vg)"/>
<rect x="336" y="30" width="34" height="72" fill="#fff"/>
<defs><linearGradient id="cb" x1="0" y1="1" x2="0" y2="0"><stop offset="0.0" stop-color="#fff600"/><stop offset="0.12" stop-color="#f8e200"/><stop offset="0.25" stop-color="#e9c200"/><stop offset="0.5" stop-color="#cd9400"/><stop offset="0.75" stop-color="#b26204"/><stop offset="1.0" stop-color="#962c00"/></linearGradient></defs>
<rect x="339.3" y="38.5" width="11.4" height="61.6" fill="url(#cb)"/>
<path d="M339.3 84.5h2.3M350.7 84.5h-2.3M339.3 70h2.3M350.7 70h-2.3M339.3 55.4h2.3M350.7 55.4h-2.3M339.3 40.9h2.3M350.7 40.9h-2.3" stroke="#fff" stroke-width="0.5"/>
<text x="353.3" y="100.9" class="lg" style="font-size:4.9px">0.00</text>
<text x="353.3" y="86.3" class="lg" style="font-size:4.9px">0.25</text>
<text x="353.3" y="71.8" class="lg" style="font-size:4.9px">0.50</text>
<text x="353.3" y="57.2" class="lg" style="font-size:4.9px">0.75</text>
<text x="353.3" y="42.7" class="lg" style="font-size:4.9px">1.00</text>
<text x="338.8" y="35.4" class="lg" style="font-size:4.6px">Vshale</text>
<rect x="304.5" y="19.4" width="72.8" height="338.8" fill="none" stroke="#737373" stroke-width="1.2"/>
<path d="M308.3 358.2v2.2M324.6 358.2v2.2M340.9 358.2v2.2M357.2 358.2v2.2M373.5 358.2v2.2M304.5 126.2h-2.2M304.5 234.7h-2.2M304.5 343.2h-2.2" stroke="#333" stroke-width="0.7" fill="none"/>
<text x="308.6" y="368" class="tk">0.00</text>
<text x="324.9" y="368" class="tk">0.25</text>
<text x="341.2" y="368" class="tk">0.50</text>
<text x="357.5" y="368" class="tk">0.75</text>
<text x="373.8" y="368" class="tk">1.00</text>
<text x="341" y="376.9" class="ti">Vshale fraction</text>
<text transform="translate(307.4 30.2) scale(0.84 1)" class="lt">D</text>
<rect x="385.8" y="19.4" width="72.7" height="338.8" fill="#fff"/>
<path d="M397.7 19.4V358.2M414 19.4V358.2M430.4 19.4V358.2M446.7 19.4V358.2M385.8 71.9H458.5M385.8 180.4H458.5M385.8 288.9H458.5" stroke="#f4f4f4" stroke-width="0.4" fill="none"/>
<path d="M389.5 19.4V358.2M405.9 19.4V358.2M422.2 19.4V358.2M438.6 19.4V358.2M454.9 19.4V358.2M385.8 126.2H458.5M385.8 234.7H458.5M385.8 343.2H458.5" stroke="#ebebeb" stroke-width="0.5" fill="none"/>
<polyline points="410.8,34.6 415.4,35.5 417.4,36 417.7,36.4 415.3,37.3 413.7,38.2 414.4,38.2 412.2,39.1 411.5,39.7 411.4,40 412.7,40.9 414.2,41.8 415.2,41.9 411.7,42.7 408.6,43.4 408.1,43.6 402.9,44.5 399.1,45.2 399.8,45.4 399,46.3 397.6,47 398.1,47.2 405.3,48.1 407.8,48.5 406.4,49 403.6,49.9 404.2,49.9 408,50.8 409.3,51.4 408.3,51.7 407.1,52.6 405.4,53.5 404.9,53.6 409.3,54.4 411.5,55 409.8,55.3 401.7,56.2 399.1,56.5 404.1,57.1 412.2,58 411.7,58 420.9,58.9 421,59 419.8,59.8 416,60.7 415.9,60.9 416.9,61.6 419.7,62.5 421.7,63.1 420.5,63.4 418.5,64.3 415.5,65.2 414.4,65.3 414,66.1 411.4,67 411.5,67.5 412.2,67.9 412.3,68.8 412.2,69.7 412.5,69.7 415.5,70.6 416.3,71.5 418.1,71.9 419.2,72.4 423.3,73.3 425.4,74 427.3,74.2 434.2,75.1 437.3,76 437.1,76 437.8,76.2 435.8,76.9 434,77.8 432.7,78.2 433.4,78.4 433.5,78.7 431,79.6 430.5,80.4 430.5,80.5 433.1,81.4 435.5,82.3 437.1,82.6 438.5,83.2 440,84.1 442.2,84.8 441.1,85 438.2,85.9 436.5,86.8 435.6,87 436,87.7 438.8,88.6 439.5,89.5 440.7,89.9 439.4,90.4 440.1,91.3 438.6,92.1 437.8,92.2 436.3,93.1 433.5,94 432,94.3 431.5,94.9 429.1,95.7 428.6,95.8 432.7,96.7 435.7,97.6 437.8,97.9 437.7,98.5 436,99.4 434.2,100.1 434.1,100.3 432,101.2 430,102.1 429.8,102.3 431.2,103 431.7,103.9 433.1,104.8 433.4,105.2 433.5,105.7 434.9,106.6 436,107.5 437.8,108.2 438.4,108.4 438.7,109.3 438.5,110.2 439.3,110.4 438.3,111.1 435.1,112 434.2,112.5 433.1,112.9 430.3,113.8 428.1,114.7 428.3,114.7 427.8,115.6 425.7,116.5 425.4,116.9 426.3,117.4 429.9,118.3 432.7,119.1 432.2,119.2 429.6,120.1 426.9,120.6 425.9,121 426.9,121.9 425.4,122.8 423,123.7 423.2,124 423,124.6 421.7,125 422,125.5 421.7,126.2 420.9,126.4 419.9,127.3 418,128.2 418.1,128.4 418.6,129.1 419.7,130 421,130.6 420.6,130.9 421.3,131.8 420.9,132.7 419.6,133.5 420.4,133.6 419.5,134.5 420.4,135.4 421,135.7 423.7,136.3 425.2,137.2 428.3,137.9 428.5,138.1 426.5,139 426.5,139.9 425.4,140.1 424.1,140.8 424.9,141.7 423.9,142.3 424.5,142.6 426.5,143.5 428.7,144.4 429.8,144.5 429.8,145.3 428.7,146.2 428.3,146.7 429.9,147.1 434.8,148 435.6,148.1 440.9,148.9 444.4,149.6 444.9,149.8 450,150.7 453.9,151.5 452.8,151.6 448.8,152.5 445.9,153.2 446.7,153.4 448.8,154.3 450.2,155 448.8,155.2 444.5,156.1 441.5,156.9 440.6,157 439.7,157.9 437.7,158.8 437.1,159.1 436.9,159.7 437.1,160.6 437.8,161.3 437.3,161.5 434,162.4 430.5,163.2 431.4,163.3 433.6,164.2 435.6,164.9 434.5,165.1 430.7,166 428.3,166.9 426.9,167.1 430,167.8 434.2,168.6 434.1,168.7 428.4,169.6 426.9,170.1 430.8,170.5 437.2,171.4 438.5,171.5 435.3,172.3 431.3,173 432.6,173.2 435.2,174.1 435.6,174.2 433,175 433.4,175.2 433.8,175.9 432.7,176.4 432.9,176.8 434.2,177.7 434.2,178.6 428.9,179.5 423.9,180.4 423.9,180.5 421.7,181.3 418.8,181.9 419,182.2 420.1,183.1 421.7,183.7 420.6,184 418,184.9 413.9,185.8 414.4,185.9 418,186.7 421,187.3 420.2,187.6 417.7,188.5 416.6,188.8 414.5,189.4 413,190.3 413.4,190.3 421.2,191.2 425.4,191.7 424.3,192.1 418.9,193 418.1,193.2 419.8,193.9 421,194.8 422.5,195.4 423.5,195.7 424.1,196.6 427.3,197.5 426.9,197.6 429.3,198.4 429.8,199.1 427.9,199.3 420.7,200.2 418.1,200.5 423.9,201.1 432.7,202 432.8,202 432.3,202.9 433.4,203.4 433.9,203.8 431.7,204.7 430.7,205.6 431.2,205.6 429.1,206.5 428.3,207.4 430.6,208.3 434.4,209.2 434.2,209.3 436,210.1 439.1,211 441.5,211.5 443.2,211.9 445.5,212.8 448,213.4 446,213.7 443.7,214.6 441.5,215.1 440.9,215.5 439,216.4 437.5,217.3 437.1,217.3 435.5,218.2 436,219.1 434.9,219.5 433,220 427.4,220.9 425.4,221.5 425.4,221.7 425.3,221.8 433.2,222.7 437.1,223.2 432.2,223.6 431.3,223.7 433,224.5 435.2,225.4 437.1,225.8 435.2,226.3 431.1,227.2 428.3,228 428.6,228.1 431.5,229 432.6,229.9 434.2,230.2 432.5,230.8 429.8,231.7 426.9,232.4 426.1,232.6 426,233.5 425,234.4 423.9,234.6 423.4,235.3 423,236.2 423.3,237.1 422.5,237.5 423.1,238 424.1,238.9 425.4,239.7 426.3,239.8 428.4,240.7 430,241.6 431.2,241.9 429.7,242.5 428,243.4 426.9,244.1 426.5,244.3 426,245.2 424.1,246.1 423.2,246.3 425.9,247 428.5,247.9 429.8,248.5 431,248.8 431.3,249.7 432.7,250 430.7,250.6 428.5,251.5 425.4,252.2 425.6,252.4 422,253.3 419.9,254.2 419.6,254.4 422.7,255.1 425.8,256 428.3,256.6 429,256.9 430,257.8 432.5,258.7 432.7,258.7 428.8,259.6 423.7,260.5 422.5,260.9 420.9,261.4 420.6,262.3 418.1,263.1 418.5,263.2 417.3,264.1 415.2,265 414.4,265.3 412,265.9 407.2,266.8 404.9,267.1 404.9,267.7 402.4,268.6 402.7,269 402.4,269.5 401.3,270.2 400,270.4 396.9,271.2 397.1,271.3 395.9,272.2 396.2,272.4 397.2,273.1 399,274 399.1,274.6 399.6,274.9 399.8,275.8 401.2,276.7 401.3,276.8 401.7,277.6 403.2,278.5 402.7,279 401.7,279.4 400.2,280.3 399.1,281.2 399.3,281.2 397.5,282.1 397.4,283 396.9,283.4 397.9,283.9 397.4,284.8 397.6,285.5 397.3,285.7 398.3,286.6 399,287.5 399.1,287.7 398,288.4 397.4,289.3 397.6,289.9 396.8,290.2 396.5,291.1 396.1,292 396.2,292.1 396.3,292.9 396.8,293.8 397.6,294.3 396.6,294.7 396.9,295.6 396.8,296.5 396.2,296.5 396.6,297.4 396.9,298.3 396.9,298.7 396.2,299.2 393.6,300.1 392.5,300.9 393,301 393.7,301.9 395.1,302.8 395.4,303.1 396.2,303.7 396.9,304.6 397.6,305.3 397,305.5 395.7,306.4 394.5,307.3 394.7,307.5 395,308.2 395,309.1 395.4,309.7 395.3,310 393.3,310.9 393,311.8 393.2,311.9 393.3,312.7 391.5,313.6 391.4,314.5 391,314.8 392.1,315.4 393.2,316 393.3,316.3 396.1,317.2 396.3,318.1 396.9,318.2 395.8,319 392.9,319.9 392.5,320.4 392.6,320.8 396.2,321.7 397.6,322.6 395.7,323.5 393.2,324.4 393.2,324.8 394,325.3 395.9,326.2 397.6,327 397.7,327.1 394.2,328 392,328.9 391.8,329.2 394.1,329.8 395.8,330.7 396.9,331.4 395.8,331.6 394.3,332.5 392.6,333.4 392.5,333.5 394.3,334.3 396,335.2 396.9,335.7 397.9,336.1 398.7,337 399.1,337.9 399.1,337.9 394.4,338.8 390.3,339.4 391.1,339.7 392.4,340.6 393,341.5 393.2,341.6 394.9,342.4 395.4,343.1" fill="none" stroke="#3030ff" stroke-width="0.75" stroke-linejoin="round" stroke-dasharray="2.4 0.9"/>
<polyline points="400.6,34.6 400.9,35.3 405.3,38.2 407.5,41.2 408.9,44.1 411.1,47 412.6,50.7 409.6,52.9 407.5,55.8 408.9,58 407.5,60.9 406.7,64.5 405.3,67.5 406.7,70.4 405.3,73.3 402.3,76.2 406.7,78.4 398,80.4 399.4,80.6 392.1,82.6 396.5,82.8 398,85.5 403.1,87.7 405.3,90.6 404.5,93.5 400.9,96.5 398,99.4 395,101.6 400.9,103.8 405.3,106 412.6,107.1 454.9,107.9 454.9,109.9 412.6,110.8 398,111.8 403.8,114 408.2,116.9 408.9,119.9 410.4,122.8 412.6,124 413.3,126.2 408.9,128.4 400.9,130.6 403.1,132.8 409.6,135.7 406.7,138.6 411.1,140.8 422.8,143 412.6,145.2 407.5,147.4 412.6,149.6 416.9,151.5 411.1,153.2 406,155.4 412.6,158.4 418.4,160.5 419.9,163.5 421.3,165.7 427.2,166.7 445.4,167.6 427.2,168.4 419.9,169.3 396.5,170.2 395,170.5 394.3,172 394.3,173.7 393.6,176.4 392.9,180 400.9,181.1 416.9,181.9 405.3,182.8 400.9,183.7 395.8,185.2 394.3,188.1 392.9,192.5 392.1,196.9 391.4,201.2 390.7,206.4 392.9,208.5 393.6,211.5 394.3,215.9 395,219.5 412.6,221 435.9,222.9 427.2,225.1 405.3,227.3 419.9,228.8 425.4,230.5 412.6,232.9 403.8,233.9 419.9,234.9 409.6,236.8 400.2,238.9 412.6,240.5 416.7,241.9 403.1,244.4 423.5,246.3 412.6,248.5 408.5,250 424.5,251.9 419.9,254.4 414.3,255.8 423.5,257.7 415.5,259.5 412.6,261.7 410.4,263.9 415.5,266.1 434,268.5 427.2,269.5 414.8,271.7 423.5,273.8 420.6,276.8 419.1,279.7 416.9,281.9 425,284.1 424.2,286.3 412.6,288.5 418.4,289.9 426.4,292.1 415.5,294 408.9,295.8 403.8,298 396.5,299.4 406.7,301.6 405.3,303.8 418.4,306 421.3,308.2 420.6,311.1 418.4,313.3 420.6,316 419.9,316 408.2,317.5 412.6,317.7 416.9,319.7 422.8,322.6 427.2,325.5 398,327 392.9,328.4 392.4,333.5 392.4,343" fill="none" stroke="#4a9a48" stroke-width="0.9" stroke-linejoin="round"/>
<rect x="416" y="315" width="41.8" height="42.5" fill="#fff"/>
<path d="M421.3 334.6H431.2" stroke="#2b2bff" stroke-width="0.7"/><path d="M421.3 346.7H431.2" stroke="#4a9a48" stroke-width="0.9"/>
<text x="434.9" y="336.4" class="lg" style="font-size:4.9px">Nshale</text><text x="434.9" y="348.5" class="lg" style="font-size:4.9px">Vshale</text>
<rect x="385.8" y="19.4" width="72.7" height="338.8" fill="none" stroke="#737373" stroke-width="1.2"/>
<path d="M389.5 358.2v2.2M405.9 358.2v2.2M422.2 358.2v2.2M438.6 358.2v2.2M454.9 358.2v2.2M385.8 126.2h-2.2M385.8 234.7h-2.2M385.8 343.2h-2.2" stroke="#333" stroke-width="0.7" fill="none"/>
<text x="389.7" y="368" class="tk">0.00</text>
<text x="406.1" y="368" class="tk">0.25</text>
<text x="422.4" y="368" class="tk">0.50</text>
<text x="438.8" y="368" class="tk">0.75</text>
<text x="455.1" y="368" class="tk">1.00</text>
<text x="422.5" y="376.9" class="ti">Shale proportion</text>
<text transform="translate(388.7 30.2) scale(0.84 1)" class="lt">E</text>
<rect x="456.6" y="116.2" width="8.4" height="94" fill="#bebebe" stroke="#7f93bd" stroke-width="0.8"/>
<text transform="translate(462.9 163.9) rotate(-90)" class="fm" style="font-size:6px;stroke:#222;stroke-width:0.2px">Core 1</text>
<rect x="468.6" y="19.4" width="75.6" height="338.8" fill="#fff"/>
<path d="M481.1 19.4V358.2M498.6 19.4V358.2M516.1 19.4V358.2M533.6 19.4V358.2M468.6 71.9H544.2M468.6 180.4H544.2M468.6 288.9H544.2" stroke="#f4f4f4" stroke-width="0.4" fill="none"/>
<path d="M472.4 19.4V358.2M489.9 19.4V358.2M507.4 19.4V358.2M524.9 19.4V358.2M542.4 19.4V358.2M468.6 126.2H544.2M468.6 234.7H544.2M468.6 343.2H544.2" stroke="#ebebeb" stroke-width="0.5" fill="none"/>
<rect x="503" y="34" width="41" height="70" fill="#fff"/>
<polyline points="488.7,34.9 489.1,35.8 489.5,36.7 489.1,37.6 489.5,38.4 489.7,38.5 488.4,39.4 488.5,40.3 487.8,41 488.2,41.2 489.4,42.1 490.9,43 491.3,43.5 491.1,43.9 490.4,44.8 490.1,45.7 489.5,46.1 490.3,46.6 491,47.5 491.7,48.4 492.1,48.7 491.7,49.3 491.1,50.2 490.7,51.1 490.4,51.3 491.2,52 492.4,52.9 493.8,53.8 493.9,53.9 493,54.7 492,55.6 491.3,56.5 491.5,56.5 492.8,57.4 493.7,58.3 494.7,59.1 494.6,59.2 493.4,60.1 492.6,61 492.1,61.7 492.2,61.9 493.7,62.8 494.9,63.7 495.6,64.3 494.8,64.6 494.3,65.5 492.6,66.4 492.1,66.9 493.2,67.3 494.7,68.2 496.2,69.1 496.4,69.5 495.3,70 494,70.9 492.8,71.8 492.1,72 490.7,72.7 489.4,73.6 489.5,73.8 485.6,74.5 480.8,75.4 476.3,76.3 475.7,76.4 486,77.2 492.1,77.7 487.9,78.1 477.9,79 472.3,79.5 475.8,79.9 483,80.8 486.1,81.2 486.5,81.7 486.7,82.6 487,82.9 479.7,83.5 472.3,84.1 476.2,84.4 488.4,85.3 489.5,85.4 491.4,86.2 492.7,87.1 494.2,88 494.7,88.3 494.2,88.9 494.1,89.8 493.8,90.7 493.9,90.9 492.7,91.6 491.3,92.5 490,93.4 489.5,93.5 488.7,94.3 486.9,95.2 486.1,95.7 487.1,96.1 489.9,97 492.1,97.8 492.3,97.9 489.5,98.8 487.8,99.5 488.5,99.7 492.3,100.6 494.7,101.3 494.2,101.5 493.4,102.4 493.1,103.3 492.1,103.9 493.3,104.2 495.3,105.1 496.5,105.6 495.9,106 496.1,106.9 495.6,107.3 498,107.8 502.2,108.7 505.1,109.4 504.4,109.6 499.8,110.5 495.6,111.3 495.2,111.4 492.8,112.3 490.6,113.2 490.4,113.4 489.8,114.1 489,115 488.7,115.4 489.5,115.9 491.6,116.8 493.9,117.7 494,117.7 494.6,118.6 495,119.5 495.6,120.3 495,120.4 488.3,121.3 481.5,122.2 480.9,122.3 490.4,123.1 493.9,123.4 493,124 491.2,124.9 490.4,125.5 491.8,125.8 494.4,126.7 496.4,127.2 495.4,127.6 493.9,128.5 492.1,129.2 492.4,129.4 493.9,130.3 494.9,131.2 495.6,131.5 495.2,132.1 494.6,133 493.8,133.9 493.9,134.1 494.7,134.8 495.5,135.7 496.8,136.6 496.4,136.7 496,137.5 495.2,138.4 494.7,139.3 494.8,139.3 500.8,140 500.7,140.2 502.1,141.1 502.5,142 503.4,142.6 502.8,142.9 502.3,143.8 502,144.7 501.6,145.2 502.1,145.6 502.4,146.5 503,147.4 502.8,148.3 503.4,148.6 503.7,149.2 505.5,150.1 506.4,151 506.8,151.2 504.9,151.9 501.8,152.8 499.9,153.5 499.1,153.7 497.3,154.6 495.3,155.5 495.6,155.5 499.8,156.4 503.4,157.3 503.3,157.3 500.3,158.2 499.1,158.7 501.1,159.1 505.1,160 506.8,160.4 508,160.9 511.3,161.8 512.9,162.4 513.1,162.7 514.2,163.6 514.5,164.5 514.6,164.5 512.5,165.4 511.1,165.9 512.4,166.3 515.7,167.2 516.3,167.3 521.2,168.1 526.1,169 525.8,169 533.3,169.9 540.5,170.7 540.7,170.8 538.7,171.7 536.4,172.6 536.2,172.8 534.2,173.5 531.8,174.4 531,174.5 530.5,175.3 530.2,176.2 529.1,177.1 529.3,177.1 528.5,178 528.1,178.9 527.5,179.4 518.9,179.8 501.4,180.7 494,181.1 508.2,181.6 527.4,182.3 527.7,182.5 528.5,183.4 528.7,184.3 529.3,184.9 528.9,185.2 528.6,186.1 528,187 528.1,187.9 527.5,188.4 527.1,188.8 526.9,189.7 526.1,190.6 526,191.5 525.8,191.8 525.7,192.4 525.7,193.3 525.5,194.2 525.5,195.1 525.8,195.3 525.7,196 524.9,196.9 524.3,197.8 523.8,198.7 524.1,198.7 523.3,199.6 522.6,200.5 522.4,201.2 521.7,201.4 521,202.3 519.5,203.2 518.9,203.8 503.8,204.1 481,204.6 486.4,205 498.6,205.9 510.3,206.7 510.9,206.8 518.7,207.7 521.5,208.1 521.7,208.6 522.9,209.5 524.1,210.4 525,211.3 524.9,211.5 524.5,212.2 524.4,213.1 524.5,214 524,214.9 524.1,215 524,215.8 523,216.7 523.1,217.6 522.4,218.4 522,218.5 516.4,219.4 512,220.2 511.8,220.3 510.7,221.2 510.2,221.9 509,222.1 502.5,223 500.8,223.3 505.1,223.9 510.7,224.8 512,225 515.4,225.7 519.8,226.6 520.6,226.7 515.6,227.5 509.3,228.4 506.8,228.8 504.4,229.3 498.8,230.2 497.3,230.5 500.2,231.1 504.7,232 505.9,232.3 504.2,232.9 502.3,233.8 501.6,234 504.5,234.7 508.5,235.6 510.3,236.1 511.9,236.5 514.8,237.4 516.3,237.8 514.1,238.3 510,239.2 506.8,240 506.1,240.1 501.3,241 496.5,241.8 497.2,241.9 502.8,242.8 506.8,243.5 507.4,243.7 511.6,244.6 512,244.7 506.2,245.5 500.1,246.4 499.9,246.4 493.7,247.3 490.4,247.8 490.4,248.2 491.3,249.1 492.1,249.9 491.7,250 490.3,250.9 489.5,251.6 490.3,251.8 492.7,252.7 494.7,253.3 494.6,253.6 495.1,254.5 494.7,254.6 491.4,255.4 490.4,255.6 489.1,256.3 487,257.2 487.2,257.2 486,258.1 485.6,259 485.2,259.8 484.6,259.9 483.8,260.8 482.4,261.7 481.8,262 477.6,262.6 472.3,263.4 473,263.5 479.7,264.4 483.5,264.9 485.4,265.3 489.6,266.2 494.6,267.1 494.7,267.2 484.1,268 472.6,268.9 472.3,268.9 479.5,269.8 486.9,270.6 486.9,270.7 491.7,271.6 495.7,272.5 496.5,272.7 497.3,273.4 497.7,274.3 498.6,275.2 499,275.3 498.5,276.1 498.2,277 498.2,277.9 494.4,278.8 491.3,279.6 491.4,279.7 494.2,280.6 497.4,281.5 498.2,281.7 499.1,282.4 499.8,283.3 500.8,283.9 500.9,284.2 500.4,285.1 500.2,286 499.9,286.2 497.6,286.9 495,287.8 494.7,287.9 497.2,288.7 499.5,289.6 500.8,290 500.6,290.5 501.6,291.4 501.6,292.1 498.2,292.3 484.3,293.2 480.9,293.4 484.7,294.1 489.5,294.8 488.9,295 484.2,295.9 482.7,296.2 484.6,296.8 488.2,297.7 488.7,297.8 484.8,298.6 483.5,299 479.4,299.5 472.3,300.4 472,300.4 472.6,301.3 472.3,302.1 474.2,302.2 486,303.1 491.3,303.5 492.8,304 494.8,304.9 496.4,305.5 496.6,305.8 496.7,306.7 496.3,307.6 496.5,308 495.6,308.1 495.6,308.5 497.1,309.4 497.3,310.1 496.6,310.3 494.6,311.2 492,312.1 491.3,312.3 493.6,313 496.4,313.9 498.2,314.6 497.5,314.8 494.4,315.7 491.2,316.6 488.7,317.5 488.9,317.5 492.7,318.4 496.4,319.2 496.4,319.3 496.5,320.2 495.5,321.1 495.6,321.8 495.8,322 495.2,322.9 495.7,323.8 495.6,324.4 498.7,324.7 506.8,325.6 512,326.1 515,326.5 521.5,327.3 521.9,327.4 522.3,328.3 523,329.2 523.2,329.6 523,330.1 522.9,331 523.1,331.9 523.2,332.8 523,333.7 523.2,333.9 523.3,334.6 523.5,335.5 524.2,336.4 524.1,336.5 524.2,337.3 523.9,338.2 524.1,339.1 523.9,339.1 523.6,340 523.2,340.8 523.1,340.9 522.9,341.8 522,342.5" fill="none" stroke="#3a3aff" stroke-width="0.8" stroke-linejoin="round"/>
<circle cx="494.4" cy="119.4" r="3.2" fill="#f7b6c2" stroke="#6b3a3a" stroke-width="0.6"/>
<circle cx="495.1" cy="122" r="3.2" fill="#f7b6c2" stroke="#6b3a3a" stroke-width="0.6"/>
<circle cx="495.9" cy="140.6" r="3.2" fill="#f7b6c2" stroke="#6b3a3a" stroke-width="0.6"/>
<circle cx="497.3" cy="141.9" r="3.2" fill="#f7b6c2" stroke="#6b3a3a" stroke-width="0.6"/>
<circle cx="526.7" cy="170.2" r="2.1" fill="#f2f200" stroke="#5c5c00" stroke-width="0.6"/>
<circle cx="526.2" cy="173.2" r="2.1" fill="#f2f200" stroke="#5c5c00" stroke-width="0.6"/>
<circle cx="532.2" cy="176.8" r="2.1" fill="#f2f200" stroke="#5c5c00" stroke-width="0.6"/>
<circle cx="525.8" cy="179.4" r="2.1" fill="#f2f200" stroke="#5c5c00" stroke-width="0.6"/>
<circle cx="494.4" cy="181.1" r="2.1" fill="#f2f200" stroke="#5c5c00" stroke-width="0.6"/>
<circle cx="514.2" cy="182" r="2.1" fill="#f2f200" stroke="#5c5c00" stroke-width="0.6"/>
<circle cx="527.2" cy="182.3" r="2.1" fill="#f2f200" stroke="#5c5c00" stroke-width="0.6"/>
<circle cx="528.4" cy="184" r="2.1" fill="#f2f200" stroke="#5c5c00" stroke-width="0.6"/>
<circle cx="527.9" cy="185.8" r="2.1" fill="#f2f200" stroke="#5c5c00" stroke-width="0.6"/>
<circle cx="526.7" cy="187.5" r="2.1" fill="#f2f200" stroke="#5c5c00" stroke-width="0.6"/>
<circle cx="525.8" cy="189.2" r="2.1" fill="#f2f200" stroke="#5c5c00" stroke-width="0.6"/>
<circle cx="525" cy="191" r="2.1" fill="#f2f200" stroke="#5c5c00" stroke-width="0.6"/>
<circle cx="524.1" cy="192.7" r="2.1" fill="#f2f200" stroke="#5c5c00" stroke-width="0.6"/>
<circle cx="525" cy="194.9" r="2.1" fill="#f2f200" stroke="#5c5c00" stroke-width="0.6"/>
<circle cx="525.5" cy="196.6" r="2.1" fill="#f2f200" stroke="#5c5c00" stroke-width="0.6"/>
<circle cx="524.6" cy="198.7" r="2.1" fill="#f2f200" stroke="#5c5c00" stroke-width="0.6"/>
<circle cx="523.7" cy="200.8" r="2.1" fill="#f2f200" stroke="#5c5c00" stroke-width="0.6"/>
<circle cx="522.9" cy="202.6" r="2.1" fill="#f2f200" stroke="#5c5c00" stroke-width="0.6"/>
<circle cx="519.2" cy="204.2" r="2.1" fill="#f2f200" stroke="#5c5c00" stroke-width="0.6"/>
<circle cx="480.6" cy="204.3" r="2.1" fill="#f2f200" stroke="#5c5c00" stroke-width="0.6"/>
<circle cx="482.3" cy="206" r="2.1" fill="#f2f200" stroke="#5c5c00" stroke-width="0.6"/>
<circle cx="510.3" cy="206.4" r="2.1" fill="#f2f200" stroke="#5c5c00" stroke-width="0.6"/>
<circle cx="522.4" cy="208.1" r="2.1" fill="#f2f200" stroke="#5c5c00" stroke-width="0.6"/>
<circle cx="523.2" cy="209.8" r="2.1" fill="#f2f200" stroke="#5c5c00" stroke-width="0.6"/>
<circle cx="522.9" cy="211.5" r="2.1" fill="#f2f200" stroke="#5c5c00" stroke-width="0.6"/>
<circle cx="511.6" cy="44.7" r="3.2" fill="#f2f200" stroke="#5c5c00" stroke-width="0.6"/>
<circle cx="511.6" cy="57.4" r="3.2" fill="#f7b6c2" stroke="#6b3a3a" stroke-width="0.6"/>
<text x="521.5" y="47.4" class="lg" style="font-size:4.9px">CCA</text><text x="521.5" y="60" class="lg" style="font-size:4.9px">MICP</text>
<path d="M507.3 94H516.8" stroke="#3a3aff" stroke-width="0.8"/>
<text x="521.5" y="96.9" class="lg" style="font-size:4.9px">RHOB</text>
<rect x="468.6" y="19.4" width="75.6" height="338.8" fill="none" stroke="#737373" stroke-width="1.2"/>
<path d="M472.4 358.2v2.2M489.9 358.2v2.2M507.4 358.2v2.2M524.9 358.2v2.2M542.4 358.2v2.2M468.6 126.2h-2.2M468.6 234.7h-2.2M468.6 343.2h-2.2" stroke="#333" stroke-width="0.7" fill="none"/>
<text x="470.7" y="368" class="tk">0.0</text>
<text x="488.2" y="368" class="tk">0.1</text>
<text x="505.7" y="368" class="tk">0.2</text>
<text x="523.2" y="368" class="tk">0.3</text>
<text x="540.7" y="368" class="tk">0.4</text>
<text x="504.9" y="376.9" class="ti">Core and log porosity</text>
<text transform="translate(471.8 30.2) scale(0.84 1)" class="lt">F</text>
</svg>
</body></html>
